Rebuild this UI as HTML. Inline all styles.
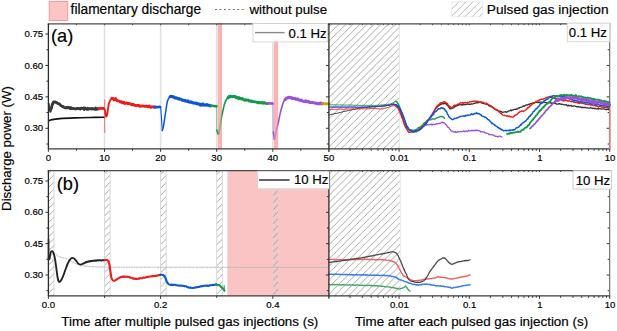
<!DOCTYPE html>
<html><head><meta charset="utf-8"><style>
html,body{margin:0;padding:0;background:#fff;width:617px;height:331px;overflow:hidden;}
svg{display:block;}
text{font-family:"Liberation Sans",sans-serif;}
</style></head><body>
<svg width="617" height="331" viewBox="0 0 617 331">
<defs>
<pattern id="hatA" patternUnits="userSpaceOnUse" width="7.05" height="7.05" x="3.5" y="0"><path d="M-1,1 L1,-1 M0,7.05 L7.05,0 M6.05,8.05 L8.05,6.05" stroke="#929292" stroke-width="0.8"/></pattern>
<pattern id="hatB" patternUnits="userSpaceOnUse" width="7.05" height="7.05" x="2.75" y="0"><path d="M-1,1 L1,-1 M0,7.05 L7.05,0 M6.05,8.05 L8.05,6.05" stroke="#929292" stroke-width="0.8"/></pattern>
<pattern id="hb0" patternUnits="userSpaceOnUse" width="7.05" height="7.05" x="3.3" y="0"><path d="M-1,1 L1,-1 M0,7.05 L7.05,0 M6.05,8.05 L8.05,6.05" stroke="#929292" stroke-width="0.8"/></pattern>
<pattern id="hb1" patternUnits="userSpaceOnUse" width="7.05" height="7.05" x="3.3" y="0"><path d="M-1,1 L1,-1 M0,7.05 L7.05,0 M6.05,8.05 L8.05,6.05" stroke="#929292" stroke-width="0.8"/></pattern>
<pattern id="hb2" patternUnits="userSpaceOnUse" width="7.05" height="7.05" x="3.3" y="0"><path d="M-1,1 L1,-1 M0,7.05 L7.05,0 M6.05,8.05 L8.05,6.05" stroke="#929292" stroke-width="0.8"/></pattern>
<pattern id="hb3" patternUnits="userSpaceOnUse" width="7.05" height="7.05" x="3.3" y="0"><path d="M-1,1 L1,-1 M0,7.05 L7.05,0 M6.05,8.05 L8.05,6.05" stroke="#929292" stroke-width="0.8"/></pattern>
<pattern id="hb4" patternUnits="userSpaceOnUse" width="7.05" height="7.05" x="3.3" y="0"><path d="M-1,1 L1,-1 M0,7.05 L7.05,0 M6.05,8.05 L8.05,6.05" stroke="#929292" stroke-width="0.8"/></pattern>
<pattern id="hb5" patternUnits="userSpaceOnUse" width="7.05" height="7.05" x="3.3" y="0"><path d="M-1,1 L1,-1 M0,7.05 L7.05,0 M6.05,8.05 L8.05,6.05" stroke="#929292" stroke-width="0.8"/></pattern>
<pattern id="hatL" patternUnits="userSpaceOnUse" width="7.0" height="7.0" x="5.8" y="0"><path d="M-1,1 L1,-1 M0,7.0 L7.0,0 M6.0,8.0 L8.0,6.0" stroke="#a4a4a4" stroke-width="0.75"/></pattern>
</defs>
<rect width="617" height="331" fill="#fff"/>
<rect x="49.3" y="1.5" width="18.4" height="19" fill="#fcc4c4" stroke="#fa9898" stroke-width="1"/>
<text x="70.6" y="13.6" font-size="13.74" font-family="Liberation Sans, sans-serif" stroke="#000" stroke-width="0.18" fill="#000">filamentary discharge</text>
<line x1="215" y1="9.5" x2="246" y2="9.5" stroke="#777" stroke-width="1" stroke-dasharray="2,2.45"/>
<text x="249.5" y="13.6" font-size="13.3" font-family="Liberation Sans, sans-serif" stroke="#000" stroke-width="0.18" fill="#000">without pulse</text>
<rect x="451.8" y="1.8" width="30.9" height="14.9" fill="url(#hatL)" stroke="#d6d6d6" stroke-width="0.8" stroke-dasharray="1,1"/>
<text x="486.8" y="14" font-size="13.7" font-family="Liberation Sans, sans-serif" stroke="#000" stroke-width="0.18" fill="#000">Pulsed gas injection</text>
<line x1="104.50" y1="23.8" x2="104.50" y2="148.8" stroke="#e2e2e2" stroke-width="1.6"/>
<line x1="160.60" y1="23.8" x2="160.60" y2="148.8" stroke="#e2e2e2" stroke-width="1.6"/>
<line x1="216.70" y1="23.8" x2="216.70" y2="148.8" stroke="#e2e2e2" stroke-width="1.6"/>
<line x1="272.80" y1="23.8" x2="272.80" y2="148.8" stroke="#e2e2e2" stroke-width="1.6"/>
<rect x="218.22" y="23.8" width="3.41" height="125.00000000000001" fill="#ffb4b4" stroke="#ffa0a0" stroke-width="0.8"/>
<rect x="274.32" y="23.8" width="3.41" height="125.00000000000001" fill="#ffb4b4" stroke="#ffa0a0" stroke-width="0.8"/>
<rect x="328.9" y="23.8" width="70.40" height="125.00000000000001" fill="url(#hatA)"/>
<line x1="399.5" y1="23.8" x2="399.5" y2="148.8" stroke="#e6e6e6" stroke-width="0.9"/>
<path d="M48.7,120.8 C49.25,120.6 50.12,119.97 52,119.6 C53.88,119.23 56.17,118.88 60,118.6 C63.83,118.32 70,118.08 75,117.9 C80,117.72 85.17,117.6 90,117.5 C94.83,117.4 101.67,117.33 104,117.3" fill="none" stroke="#111" stroke-width="1.6" stroke-linejoin="round" stroke-linecap="round" />
<path d="M48.7,103.6 C48.97,104.97 49.83,111.07 50.3,111.8 C50.77,112.53 51.3,108.63 51.5,108" fill="none" stroke="#383838" stroke-width="1.8" stroke-linejoin="round" stroke-linecap="round" />
<path d="M51.3,108.5 L51.42,108.02 L51.59,107.69 L51.79,106.07 L52.02,105.86 L52.26,104.59 L52.5,103.91 L52.84,103.81 L53.19,102.44 L53.62,101.82 L54.2,101.86 L54.71,102.08 L55.3,101.94 L55.96,102.54 L56.64,102.46 L57.33,103.14 L58,103.55 L58.66,103.65 L59.32,104.04 L59.99,104.47 L60.66,105.41 L61.33,105.86 L62,106.19 L62.61,106.65 L63.15,106.44 L63.69,107.13 L64.3,107.48 L65.04,107.87 L66,107.5 L66.57,107.75 L67.2,107.28 L67.88,107.89 L68.59,107.37 L69.34,107.72 L70.12,108.67 L70.93,107.57 L71.74,108.68 L72.56,108.57 L73.38,108.4 L74.2,108.72 L75,108.78 L75.67,109 L76.34,108.58 L77,108.48 L77.67,108.5 L78.33,108.38 L79.01,108.72 L79.69,108.47 L80.38,109.13 L81.09,108.11 L81.82,108.39 L82.57,108.45 L83.35,108.05 L84.16,109.46 L85,107.96 L85.63,108.71 L86.3,108.62 L87.02,109.39 L87.77,108.12 L88.55,109.19 L89.35,108.56 L90.16,108.76 L90.98,108.58 L91.81,109.04 L92.62,108.41 L93.43,108.78 L94.22,108.93 L94.98,109.45 L95.7,107.96 L96.39,109.34 L97.03,109.14 L97.62,108.63 L98.15,108.91 L98.61,108.64 L99,108.8" fill="none" stroke="#383838" stroke-width="2.8" stroke-linejoin="round" stroke-linecap="round" />
<path d="M104.7,100 L104.7,132.5" fill="none" stroke="#ee1c1c" stroke-width="0.7" stroke-linejoin="round" stroke-linecap="round" opacity="0.85"/>
<path d="M98.7,108.3 L99.29,108.66 L100.13,108.41 L101,108.36 L101.94,108.36 L102.91,108.36 L103.6,108.4" fill="none" stroke="#ee1c1c" stroke-width="2.6" stroke-linejoin="round" stroke-linecap="round" />
<path d="M103.6,108.4 C103.8,108.67 104.38,108.67 104.8,110 C105.22,111.33 105.67,115.9 106.1,116.4 C106.53,116.9 106.92,115.23 107.4,113 C107.88,110.77 108.25,105.45 109,103 C109.75,100.55 111.23,99.05 111.9,98.3 C112.57,97.55 112.82,98.47 113,98.5" fill="none" stroke="#ee1c1c" stroke-width="1.9" stroke-linejoin="round" stroke-linecap="round" />
<path d="M111.9,98.3 L112.41,98.46 L113.14,98.52 L114.02,99.92 L115,98.93 L115.57,98.57 L116.14,100.04 L116.75,100.28 L117.41,100.74 L118.15,100.82 L119.01,101.13 L120,101.62 L120.56,102 L121.17,101.68 L121.81,101.89 L122.49,102.89 L123.2,102.6 L123.94,102.26 L124.69,103.62 L125.45,103.28 L126.22,103 L127,102.98 L127.77,103.69 L128.53,103.47 L129.27,103.57 L130,103.65 L130.71,104.08 L131.43,104.79 L132.14,104.4 L132.86,104.19 L133.57,105.07 L134.29,104.99 L135,105.4 L135.71,105.65 L136.43,105.29 L137.14,105.42 L137.86,105.57 L138.57,105.29 L139.29,106.03 L140,106.38 L140.73,106.06 L141.47,106.01 L142.23,106.09 L143,105.99 L143.78,106.06 L144.55,106.28 L145.31,106.2 L146.06,106.41 L146.8,106.08 L147.51,106.81 L148.19,106.76 L148.83,106.4 L149.44,106.05 L150,106.9 L151.02,107.37 L151.94,106.79 L152.76,106.92 L153.47,106.93 L154.08,107.39 L154.59,106.86 L155,107.2" fill="none" stroke="#ee1c1c" stroke-width="2.8" stroke-linejoin="round" stroke-linecap="round" />
<path d="M154.5,106.9 L155.12,107.12 L156.02,106.89 L157,107.18 L157.83,107.05 L158.76,107.06 L159.61,106.87 L160.2,107.2" fill="none" stroke="#0a55d8" stroke-width="2.6" stroke-linejoin="round" stroke-linecap="round" />
<path d="M160.2,107.2 C160.32,107.67 160.55,106.12 160.9,110 C161.25,113.88 162.07,127.08 162.3,130.5" fill="none" stroke="#0a55d8" stroke-width="1.1" stroke-linejoin="round" stroke-linecap="round" />
<path d="M162.3,130.5 C162.5,129.75 162.97,128.92 163.5,126 C164.03,123.08 164.83,117.17 165.5,113 C166.17,108.83 166.75,103.72 167.5,101 C168.25,98.28 169.25,97.47 170,96.7 C170.75,95.93 171.67,96.45 172,96.4" fill="none" stroke="#0a55d8" stroke-width="1.5" stroke-linejoin="round" stroke-linecap="round" />
<path d="M170,96.7 L170.75,96.27 L172,96.41 L172.5,96.86 L173.04,96.89 L173.62,96.79 L174.3,97.44 L175.08,97.93 L176,97.85 L176.57,97.93 L177.17,98.15 L177.81,98.78 L178.49,98.9 L179.2,98.62 L179.94,99.31 L180.7,99.25 L181.49,99.4 L182.31,100.35 L183.15,100.44 L184,100.15 L184.61,100.6 L185.24,100.92 L185.89,100.7 L186.56,101.06 L187.25,101.52 L187.95,100.85 L188.66,101.77 L189.38,102.1 L190.1,102.2 L190.82,101.74 L191.54,102.5 L192.25,102.26 L192.96,102.93 L193.65,103.11 L194.33,103.13 L195,102.93 L195.75,103.15 L196.52,103.82 L197.28,103.36 L198.05,103.99 L198.81,104.14 L199.57,104 L200.31,105.06 L201.05,104.38 L201.76,105.22 L202.46,103.88 L203.14,103.91 L203.79,105.15 L204.41,105.13 L205,104.89 L205.98,105.13 L206.92,104.62 L207.81,105.19 L208.62,105.15 L209.37,105.52 L210.02,105.99 L210.56,105.76 L211,105.8" fill="none" stroke="#0a55d8" stroke-width="3.0" stroke-linejoin="round" stroke-linecap="round" />
<path d="M216.7,106 L216.7,131" fill="none" stroke="#7cc68f" stroke-width="1.0" stroke-linejoin="round" stroke-linecap="round" />
<path d="M210.8,105.8 L211.32,105.93 L212.09,105.79 L213,105.91 L213.67,106.07 L214.47,106.03 L215.29,106.39 L216,106 L216.5,106.2" fill="none" stroke="#12984a" stroke-width="2.4" stroke-linejoin="round" stroke-linecap="round" />
<path d="M216.8,130 C216.93,130.5 217.32,132.28 217.6,133 C217.88,133.72 218.35,134.08 218.5,134.3" fill="none" stroke="#12984a" stroke-width="1.4" stroke-linejoin="round" stroke-linecap="round" />
<path d="M218.5,134.3 C218.67,133.58 219.17,131.72 219.5,130 C219.83,128.28 220.17,126.17 220.5,124 C220.83,121.83 221.12,119.12 221.5,117 C221.88,114.88 222.3,113.47 222.8,111.3 C223.3,109.13 223.88,105.97 224.5,104 C225.12,102.03 225.83,100.62 226.5,99.5 C227.17,98.38 227.75,97.85 228.5,97.3 C229.25,96.75 230.58,96.38 231,96.2" fill="none" stroke="#12984a" stroke-width="1.6" stroke-linejoin="round" stroke-linecap="round" />
<path d="M228,97.5 L228.38,97.87 L228.91,96.44 L229.61,96.76 L230.5,95.93 L231.02,96.79 L231.58,96.32 L232.19,96.51 L232.84,96.77 L233.55,96.46 L234.31,96.51 L235.12,96.37 L236,97.73 L236.57,97.2 L237.18,97.41 L237.82,97.78 L238.48,98.68 L239.16,97.58 L239.86,98.48 L240.58,98.46 L241.31,99 L242.04,98.39 L242.78,99.09 L243.53,99.72 L244.27,100.17 L245,100.36 L245.68,99.66 L246.35,100.13 L247.03,100.23 L247.7,99.94 L248.38,100.06 L249.07,100.98 L249.76,100.94 L250.47,100.95 L251.18,101.56 L251.91,100.92 L252.65,101.59 L253.42,101.54 L254.2,101.65 L255,101.97 L255.66,101.96 L256.37,102.1 L257.12,102.2 L257.9,102.89 L258.71,102.21 L259.53,102.78 L260.37,102.74 L261.2,102.5 L262.02,103 L262.84,102.52 L263.62,103.32 L264.38,102.72 L265.09,102.91 L265.76,103.27 L266.38,103.52 L266.92,103.61 L267.4,103.66 L267.8,103.4" fill="none" stroke="#12984a" stroke-width="2.8" stroke-linejoin="round" stroke-linecap="round" />
<path d="M273,104 L273.2,133" fill="none" stroke="#b99ae8" stroke-width="1.0" stroke-linejoin="round" stroke-linecap="round" />
<path d="M267.5,103.3 L268.14,103.28 L269.07,103.17 L270,103.51 L270.96,103.5 L271.92,103.28 L272.6,103.5" fill="none" stroke="#9a52d8" stroke-width="2.6" stroke-linejoin="round" stroke-linecap="round" />
<path d="M273.2,132 C273.3,132.67 273.58,134.78 273.8,136 C274.02,137.22 274.38,138.75 274.5,139.3" fill="none" stroke="#9a52d8" stroke-width="1.4" stroke-linejoin="round" stroke-linecap="round" />
<path d="M274.5,139.3 C274.68,138.42 275.22,135.88 275.6,134 C275.98,132.12 276.32,130 276.8,128 C277.28,126 277.88,124.67 278.5,122 C279.12,119.33 279.58,115.5 280.5,112 C281.42,108.5 282.7,103.4 284,101 C285.3,98.6 287.58,98.17 288.3,97.6" fill="none" stroke="#9a52d8" stroke-width="1.6" stroke-linejoin="round" stroke-linecap="round" />
<path d="M285,99.5 L285.39,99.55 L285.92,98.84 L286.58,97.96 L287.37,98.06 L288.3,97.24 L288.88,97.38 L289.5,97.86 L290.16,97.25 L290.86,97.93 L291.61,97.58 L292.4,98.48 L293.22,98.15 L294.09,98.66 L295,98.27 L295.61,98.82 L296.26,99.42 L296.92,99.42 L297.62,98.79 L298.33,99.95 L299.05,100.13 L299.79,99.89 L300.54,100.71 L301.29,100.05 L302.05,100.58 L302.8,101.19 L303.54,101.44 L304.28,101.59 L305,100.92 L305.72,100.82 L306.45,101.72 L307.18,101.21 L307.92,101.8 L308.65,101.52 L309.39,102.46 L310.12,102.48 L310.85,102.51 L311.58,102.42 L312.29,102.54 L312.99,102.52 L313.68,102.85 L314.35,102.9 L315,103.06 L315.83,102.86 L316.68,103.78 L317.54,103.32 L318.39,103.8 L319.22,103.87 L320.02,103.18 L320.76,102.98 L321.45,104.08 L322.06,103.56 L322.58,103.78 L323,103.8" fill="none" stroke="#9a52d8" stroke-width="2.9" stroke-linejoin="round" stroke-linecap="round" />
<path d="M322.5,103.7 L328.8,103.9" fill="none" stroke="#d09c00" stroke-width="2.7" stroke-linejoin="round" stroke-linecap="round" />
<rect x="218.22" y="23.8" width="3.41" height="125.00000000000001" fill="#ffb4b4" fill-opacity="0.55"/>
<rect x="274.32" y="23.8" width="3.41" height="125.00000000000001" fill="#ffb4b4" fill-opacity="0.55"/>
<path d="M329,104.8 L329.38,104.77 L329.81,104.83 L330.29,104.68 L330.81,104.81 L331.37,104.78 L331.96,104.84 L332.59,104.57 L333.26,104.96 L333.95,104.91 L334.67,104.68 L335.41,104.81 L336.17,104.91 L336.95,104.99 L337.75,104.93 L338.56,105.11 L339.38,104.96 L340.21,104.85 L341.04,104.9 L341.87,105.08 L342.7,104.93 L343.53,105.12 L344.35,105.15 L345.17,105.11 L345.97,105.18 L346.75,105.05 L347.52,105.08 L348.27,105.02 L349,105.03 L349.72,104.92 L350.44,105.06 L351.17,105.01 L351.9,104.98 L352.64,105.18 L353.38,105.23 L354.12,105.15 L354.86,105.37 L355.6,105.34 L356.35,105.37 L357.09,105.18 L357.83,105.09 L358.57,105.35 L359.31,105.34 L360.05,105.4 L360.78,105.38 L361.5,105.49 L362.23,105.32 L362.94,105.44 L363.65,105.27 L364.35,105.1 L365.05,105.34 L365.73,105.57 L366.41,105.2 L367.07,105.52 L367.73,105.32 L368.37,105.35 L369,105.41 L369.83,105.42 L370.66,105.27 L371.48,105.39 L372.3,105.41 L373.11,105.45 L373.91,105.24 L374.7,105.49 L375.48,105.51 L376.25,105.55 L377,105.08 L377.74,105.23 L378.46,104.96 L379.17,105.2 L379.85,105.19 L380.52,104.96 L381.16,104.87 L381.78,105.05 L382.37,105.07 L382.94,104.87 L383.49,104.9 L384,104.6 L385.18,104.73 L386.14,104.76 L386.93,104.68 L387.59,104.77 L388.18,104.34 L388.75,104.08 L389.34,104.25 L390,103.93 L390.75,103.77 L391.54,103.49 L392.34,103.11 L393.12,102.82 L393.86,102.42 L394.52,101.71 L395.08,101.6 L395.5,101.4" fill="none" stroke="#12984a" stroke-width="1.0" stroke-linejoin="round" stroke-linecap="round" />
<path d="M329,106.5 L329.38,106.74 L329.81,106.46 L330.29,106.63 L330.81,106.51 L331.37,106.47 L331.96,106.72 L332.59,106.66 L333.26,106.51 L333.95,106.66 L334.67,106.4 L335.41,106.48 L336.17,106.68 L336.95,106.58 L337.75,106.46 L338.56,106.65 L339.38,106.64 L340.21,106.77 L341.04,106.74 L341.87,106.6 L342.7,106.58 L343.53,106.63 L344.35,106.63 L345.17,106.84 L345.97,106.86 L346.75,106.84 L347.52,106.73 L348.27,106.66 L349,106.81 L349.72,106.67 L350.44,106.75 L351.16,106.53 L351.88,106.69 L352.61,106.93 L353.34,106.65 L354.07,106.61 L354.8,106.78 L355.53,107.02 L356.27,107.01 L357,106.81 L357.73,106.81 L358.46,106.87 L359.19,106.79 L359.91,106.92 L360.64,106.89 L361.36,106.76 L362.08,106.88 L362.79,106.92 L363.5,106.86 L364.21,106.83 L364.91,107.07 L365.61,107.19 L366.3,106.92 L366.99,106.9 L367.66,107 L368.34,106.89 L369,106.81 L369.77,107.04 L370.56,106.71 L371.34,106.71 L372.13,106.68 L372.93,106.61 L373.72,106.64 L374.51,106.68 L375.3,106.73 L376.08,106.58 L376.85,106.44 L377.62,106.22 L378.38,106.3 L379.12,106.13 L379.85,106.16 L380.56,106.22 L381.26,106.06 L381.94,105.94 L382.59,105.8 L383.23,105.82 L383.84,105.77 L384.42,105.58 L384.98,105.56 L385.5,105.67 L386,105.3 L387.29,105.25 L388.32,104.94 L389.14,105.03 L389.81,104.69 L390.38,104.46 L390.9,104.26 L391.42,104.11 L392,104.04 L392.99,103.84 L393.94,104.22 L394.78,104.5 L395.49,104.48 L396,104.8" fill="none" stroke="#9a52d8" stroke-width="1.0" stroke-linejoin="round" stroke-linecap="round" />
<path d="M329,115 L329.41,115.01 L329.9,114.88 L330.48,114.49 L331.13,114.48 L331.83,114.34 L332.59,114.15 L333.38,114.09 L334.19,113.71 L335.02,113.66 L335.85,113.53 L336.68,113.4 L337.48,113.14 L338.26,112.94 L339,112.88 L339.71,112.4 L340.43,112.59 L341.14,112.27 L341.86,111.99 L342.57,111.93 L343.29,111.59 L344,111.4 L344.71,111.44 L345.43,111.22 L346.14,111.23 L346.86,110.88 L347.57,110.66 L348.29,110.54 L349,110.71 L349.72,110.34 L350.45,110.11 L351.2,109.9 L351.94,109.73 L352.69,109.68 L353.44,109.59 L354.19,109.52 L354.92,109.36 L355.65,109.11 L356.36,108.85 L357.06,108.68 L357.73,108.37 L358.38,108.4 L359,108.45 L359.83,108.2 L360.61,108.14 L361.35,107.79 L362.06,107.93 L362.75,107.74 L363.42,107.6 L364.07,107.54 L364.71,107.12 L365.35,107.22 L366,107.09 L366.78,107.31 L367.52,106.98 L368.24,106.86 L368.94,106.95 L369.65,106.66 L370.38,106.89 L371.16,106.58 L372,106.59 L372.66,106.45 L373.36,106.61 L374.09,106.22 L374.85,106.52 L375.61,106.31 L376.39,106.38 L377.15,106.2 L377.91,106.33 L378.64,106.29 L379.34,106.31 L380,106.24 L380.85,106.23 L381.64,106.24 L382.4,106.03 L383.12,105.9 L383.84,105.85 L384.55,106.03 L385.26,105.84 L386,105.93 L386.76,105.69 L387.55,105.43 L388.34,105.5 L389.12,105.46 L389.9,105.05 L390.64,104.81 L391.35,104.69 L392,104.81 L392.99,104.54 L393.94,104.53 L394.78,104.67 L395.49,104.6 L396,104.6" fill="none" stroke="#333" stroke-width="1.0" stroke-linejoin="round" stroke-linecap="round" />
<path d="M329,109.4 L329.38,109.41 L329.81,109.32 L330.29,109.3 L330.81,109.38 L331.37,109.37 L331.96,109.41 L332.59,109.27 L333.26,109.35 L333.95,109.35 L334.67,109.29 L335.41,109.34 L336.17,109.37 L336.95,109.26 L337.75,109.23 L338.56,109.09 L339.38,109.22 L340.21,109.16 L341.04,109.11 L341.87,109.04 L342.7,109.19 L343.53,109.41 L344.35,109.14 L345.17,109.08 L345.97,109.11 L346.75,108.97 L347.52,109.04 L348.27,108.93 L349,108.92 L349.72,109.02 L350.46,109 L351.21,108.95 L351.97,108.86 L352.74,108.97 L353.52,108.8 L354.3,109.01 L355.09,108.86 L355.88,108.89 L356.68,108.98 L357.47,108.94 L358.25,108.7 L359.04,108.82 L359.81,108.88 L360.58,108.7 L361.34,108.53 L362.08,108.8 L362.82,108.79 L363.53,108.84 L364.23,108.79 L364.91,108.78 L365.57,108.78 L366.21,108.91 L366.83,108.79 L367.41,108.79 L367.97,108.67 L368.5,108.84 L369,108.68 L370.24,108.76 L371.26,108.39 L372.12,108.64 L372.83,108.57 L373.44,108.49 L373.97,108.68 L374.46,108.55 L374.94,108.48 L375.44,108.43 L376,108.73 L376.82,108.64 L377.57,108.71 L378.28,108.65 L378.96,109.01 L379.63,109.01 L380.3,108.97 L381,108.99 L381.71,108.75 L382.4,108.93 L383.09,108.6 L383.79,108.68 L384.5,108.35 L385.23,108.13 L386,108.04 L386.64,107.84 L387.32,107.45 L388.04,107.33 L388.76,107.15 L389.48,106.79 L390.19,106.41 L390.85,106.31 L391.46,106.03 L392,105.93 L392.96,105.77 L393.69,105.63 L394.32,105.61 L395,105.6 L395.65,106.16 L396.34,106.59 L397.02,107.11 L397.59,107.68 L398,108" fill="none" stroke="#ee1c1c" stroke-width="1.0" stroke-linejoin="round" stroke-linecap="round" />
<path d="M329,107.4 L329.38,107.63 L329.81,107.24 L330.29,107.2 L330.81,107.48 L331.37,107.29 L331.96,107.54 L332.59,107.26 L333.26,107.32 L333.95,107.48 L334.67,107.48 L335.41,107.42 L336.17,107.42 L336.95,107.34 L337.75,107.3 L338.56,107.33 L339.38,107.5 L340.21,107.43 L341.04,107.34 L341.87,107.37 L342.7,107.43 L343.53,107.47 L344.35,107.31 L345.17,107.31 L345.97,107.35 L346.75,107.62 L347.52,107.34 L348.27,107.46 L349,107.12 L349.72,107.4 L350.46,107.13 L351.21,107.16 L351.97,107.21 L352.74,107.27 L353.52,107.31 L354.3,107.33 L355.09,107.31 L355.88,107.23 L356.68,107.59 L357.47,107.32 L358.25,107.35 L359.04,107.51 L359.81,107.38 L360.58,107.34 L361.34,107.3 L362.08,107.48 L362.82,107.13 L363.53,107.14 L364.23,107.27 L364.91,107 L365.57,107.15 L366.21,107.37 L366.83,107.18 L367.41,107.24 L367.97,107.3 L368.5,107.07 L369,107.23 L370.21,107.1 L371.18,107.02 L371.96,107.09 L372.59,107.09 L373.12,107.02 L373.61,106.95 L374.09,107.1 L374.62,107.07 L375.24,106.94 L376,106.79 L376.63,106.61 L377.31,106.57 L378.02,106.47 L378.76,106.54 L379.51,106.54 L380.29,106.46 L381.06,106.25 L381.84,106.12 L382.6,106.09 L383.35,105.99 L384.07,105.95 L384.76,105.96 L385.4,105.61 L386,105.85 L386.96,105.18 L387.83,105.04 L388.63,104.87 L389.38,104.74 L390.07,104.65 L390.73,104.77 L391.37,104.31 L392,104.43 L392.99,104.2 L393.94,104.3 L394.78,104.24 L395.49,104.72 L396,104.5" fill="none" stroke="#0a55d8" stroke-width="1.0" stroke-linejoin="round" stroke-linecap="round" />
<path d="M396,104.8 L396.33,105.1 L396.78,105.32 L397.31,106.67 L397.89,106.62 L398.47,107.36 L399,107.96 L399.3,108.27 L399.6,108.65 L399.9,109.62 L400.2,110.79 L400.5,111.11 L400.8,111.62 L401.1,112.69 L401.4,112.81 L401.7,114.2 L402,114.5 L402.27,114.9 L402.55,116.02 L402.82,116.65 L403.09,117.09 L403.36,117.96 L403.64,118.89 L403.91,119.72 L404.18,119.75 L404.45,119.9 L404.73,121.96 L405,121.92 L405.3,122.58 L405.6,123.56 L405.9,124.02 L406.2,125.17 L406.5,125.19 L406.8,126.18 L407.1,126.5 L407.4,127.93 L407.7,127.94 L408,128.83 L408.58,129.71 L409.15,129.54 L409.73,130.29 L410.34,130.92 L411,131.01 L411.74,131.18 L412.53,131.59 L413.35,131.64 L414.18,131.14 L415,131.16 L415.67,131.23 L416.33,130.89 L417,130.59 L417.67,129.9 L418.33,130.4 L419,129.43 L419.58,129.21 L420.17,128.69 L420.77,128.26 L421.36,127.81 L421.93,127.05 L422.48,126.98 L423,126.86 L423.75,126.07 L424.38,125.7 L425.06,125.24 L426,124.81 L426.62,125.23 L427.34,124.42 L428.12,124.69 L428.94,124.86 L429.76,124.62 L430.57,124.21 L431.33,124.2 L432,124.97 L432.93,124.2 L433.74,124.49 L434.5,124.66 L435.23,124.5 L436,123.87 L436.82,123.69 L437.65,124.02 L438.47,123.6 L439.26,123.52 L440,123.43 L440.82,123.16 L441.56,122.4 L442.27,122.08 L443,122.88 L443.58,122.62 L444.15,122.79 L444.73,122.99 L445.34,124.31 L446,124.42 L446.46,124.98 L446.95,126.07 L447.47,126.62 L448,127.37 L448.53,127.51 L449.05,127.67 L449.54,128.82 L450,129.51 L450.63,130.02 L451.18,130.99 L451.7,131.23 L452.29,131.13 L453,131.87 L453.58,131.8 L454.2,131.8 L454.85,132.35 L455.54,131.54 L456.29,132.35 L457.11,132.36 L458,131.39 L458.62,131.91 L459.3,131.87 L460.02,131.52 L460.77,131.61 L461.55,131.46 L462.33,131.63 L463.11,131.36 L463.88,130.79 L464.63,131.7 L465.34,131.54 L466,130.95 L466.86,131.38 L467.69,131.64 L468.48,130.49 L469.25,130.75 L469.98,130.65 L470.69,130.9 L471.36,130.57 L472,130.18 L472.93,130.86 L473.74,130.27 L474.5,130.48 L475.23,130.88 L476,129.98 L476.77,130.14 L477.5,130.65 L478.26,130.5 L479.07,130.9 L480,131 L480.58,132.01 L481.2,131.56 L481.85,131.69 L482.53,131.85 L483.22,132.17 L483.93,131.81 L484.63,132.46 L485.32,133 L486,132.64 L486.75,133.26 L487.5,133.47 L488.25,133.6 L489,134.75 L489.75,134.46 L490.5,134.58 L491.25,134.46 L492,134.93 L492.76,135 L493.55,135.23 L494.34,135.49 L495.12,136.33 L495.9,136.12 L496.64,136.36 L497.35,136.39 L498,136.95 L498.99,136.09 L499.94,136.06 L500.78,136.66 L501.49,136.79 L502,136.8" fill="none" stroke="#9a52d8" stroke-width="1.3" stroke-linejoin="round" stroke-linecap="round" />
<path d="M396,104.6 L396.41,104.96 L396.98,105.24 L397.66,106.22 L398.35,107.23 L399,107.57 L399.38,107.97 L399.75,108.97 L400.12,109.13 L400.5,109.76 L400.88,110.66 L401.25,110.63 L401.62,112.69 L402,112.97 L402.23,113.74 L402.46,114.31 L402.69,115.01 L402.92,115.19 L403.15,116.85 L403.38,117.24 L403.62,117.9 L403.85,119.51 L404.08,118.92 L404.31,120.25 L404.54,120.69 L404.77,120.93 L405,122.58 L405.3,122.31 L405.6,123.58 L405.9,124.25 L406.2,125.05 L406.5,125.41 L406.8,126.76 L407.1,127.04 L407.4,127.15 L407.7,127.68 L408,128.58 L408.58,128.87 L409.15,129.83 L409.73,130.12 L410.34,130.09 L411,129.92 L411.74,130.34 L412.53,131.01 L413.35,130.86 L414.18,131.61 L415,130.87 L415.64,131.02 L416.26,130.98 L416.88,130.62 L417.52,130.43 L418.22,130.28 L419,129.46 L419.47,129.3 L419.96,128.76 L420.47,129.12 L420.99,128.19 L421.54,127.98 L422.09,126.4 L422.66,126.67 L423.24,125.96 L423.82,125.76 L424.41,125.01 L425,124.19 L425.39,123.97 L425.8,123.8 L426.21,123.35 L426.64,122.31 L427.08,122.21 L427.52,121.1 L427.96,120.86 L428.4,119.79 L428.85,119.73 L429.28,119.48 L429.71,118.08 L430.13,117.92 L430.54,116.51 L430.93,116.18 L431.31,116.61 L431.66,115.27 L432,114.95 L432.52,113.53 L432.99,113.28 L433.42,112.35 L433.82,112.29 L434.19,111.14 L434.54,111.46 L434.89,109.79 L435.25,109.66 L435.61,108.42 L436,108.38 L436.5,108.24 L436.99,107.24 L437.48,106.31 L437.97,106.32 L438.46,105.97 L438.96,105.37 L439.48,105.14 L440,104.07 L440.74,104.68 L441.54,104.07 L442.34,103.02 L443.13,104.1 L443.86,103.35 L444.5,103.66 L445.24,103.05 L445.81,103.75 L446.35,103.84 L447,105.25 L447.46,105.42 L447.96,105.83 L448.48,106.69 L449.02,107.84 L449.54,107.92 L450.04,108.84 L450.5,108.65 L451.31,108.6 L452.02,108.5 L453,107.91 L453.48,107.79 L454,107.68 L454.56,106.9 L455.16,106.53 L455.8,106.48 L456.48,106.01 L457.21,105.54 L458,105.37 L458.62,104.5 L459.3,104.87 L460.02,104.46 L460.77,104.75 L461.55,105.06 L462.33,104.23 L463.11,104.97 L463.88,104.48 L464.63,104.54 L465.34,104.42 L466,104.71 L466.85,104.23 L467.64,103.75 L468.4,104.43 L469.12,104.24 L469.84,104.43 L470.55,104.36 L471.26,103.74 L472,104.06 L472.75,103.89 L473.5,103.64 L474.25,103.47 L475,103.31 L475.75,102.84 L476.5,102.77 L477.25,102.97 L478,102.28 L478.75,102.56 L479.5,102.3 L480.25,102.34 L481,102.63 L481.75,102.92 L482.5,103.48 L483.25,103.14 L484,103.68 L484.67,103.77 L485.33,103.86 L486,103.17 L486.67,104.42 L487.33,104.7 L488,104.69 L488.67,105.37 L489.33,106.1 L490,105.65 L490.68,106.2 L491.37,107.02 L492.07,106.62 L492.78,107.27 L493.47,108.09 L494.15,108.7 L494.8,109.17 L495.42,109.4 L496,110.19 L496.77,110.05 L497.44,109.95 L498.06,110.63 L498.67,111.19 L499.3,111.38 L500,110.92 L500.64,111.79 L501.3,111.58 L501.97,111.88 L502.66,112.46 L503.4,112.02 L504.17,111.86 L505,111.96 L505.61,111.72 L506.26,112.42 L506.92,111.91 L507.61,111.76 L508.31,111.1 L509.03,110.9 L509.76,110.96 L510.5,110 L511.25,110.73 L512,109.82 L512.63,110.04 L513.28,109.91 L513.93,109.36 L514.59,109.48 L515.26,109.36 L515.94,109.5 L516.62,108.81 L517.3,109 L517.98,108.36 L518.66,107.92 L519.33,108 L520,107.34 L520.67,107.3 L521.34,107.19 L522.02,107.09 L522.7,106.57 L523.38,105.78 L524.06,106.35 L524.74,105.75 L525.41,105.35 L526.07,104.94 L526.72,105.12 L527.37,104.82 L528,104.7 L528.75,104.21 L529.5,104.47 L530.24,103.69 L530.97,103.66 L531.69,103.38 L532.39,103.44 L533.08,102.73 L533.74,102.68 L534.39,102.56 L535,102.3 L535.81,102.18 L536.55,101.94 L537.23,102.49 L537.89,102.7 L538.56,101.97 L539.25,102.52 L540,101.96 L540.7,102.07 L541.43,102.24 L542.18,102.41 L542.94,102.55 L543.71,101.88 L544.48,102.11 L545.24,102.58 L546,102.53 L546.75,103.28 L547.5,102.6 L548.25,102.52 L549,103.12 L549.75,102 L550.5,102.3 L551.25,103.73 L552,102.81 L552.74,103.12 L553.45,103.15 L554.16,103.06 L554.88,103.42 L555.6,103.2 L556.36,104.02 L557.15,104.1 L558,104.2 L558.64,103.81 L559.28,103.59 L559.93,104.11 L560.59,104 L561.28,104.53 L561.98,104.01 L562.71,104.31 L563.48,104.72 L564.27,104.9 L565.11,104.91 L566,104.62 L566.6,104.88 L567.21,105.77 L567.84,105.54 L568.48,105.11 L569.14,106.02 L569.82,105.51 L570.51,105.65 L571.21,105.51 L571.92,106.32 L572.65,106 L573.38,106.05 L574.13,105.91 L574.89,105.91 L575.65,106.45 L576.43,106.5 L577.21,107.07 L578,106.43 L578.65,106.67 L579.31,107.15 L579.97,107.18 L580.65,106.81 L581.33,107.53 L582.02,107.32 L582.72,107.52 L583.43,107.44 L584.14,107.7 L584.86,107.37 L585.58,107.5 L586.31,107.97 L587.04,107.84 L587.78,107.91 L588.52,108.21 L589.26,108.02 L590.01,108.14 L590.75,107.43 L591.5,108 L592.25,108.48 L593,108.03 L593.7,108.27 L594.44,108.49 L595.2,108.44 L595.99,108.8 L596.79,108.75 L597.61,108.62 L598.44,109.06 L599.28,108.68 L600.12,108.64 L600.95,109.01 L601.78,109.16 L602.59,108.98 L603.39,108.76 L604.17,108.98 L604.92,109.25 L605.65,109.44 L606.33,109.81 L606.98,109.28 L607.59,109.3 L608.15,108.76 L608.66,109.82 L609.11,109.74 L609.5,109.5" fill="none" stroke="#333" stroke-width="1.3" stroke-linejoin="round" stroke-linecap="round" />
<path d="M395.5,101.4 L395.92,101.73 L396.51,101.95 L397.19,101.94 L397.88,103.65 L398.5,104.06 L398.77,105.26 L399.03,105.6 L399.29,106.37 L399.54,106.6 L399.78,107.69 L400.02,107.62 L400.27,109.21 L400.51,109.5 L400.75,109.91 L401,110.88 L401.23,111.39 L401.45,112.47 L401.68,112.91 L401.91,113.49 L402.14,114.52 L402.36,115.32 L402.59,116.21 L402.82,117.1 L403.05,118 L403.27,118.45 L403.5,119.49 L403.78,119.06 L404.05,120.57 L404.31,121.65 L404.58,121.73 L404.85,122.8 L405.13,123.64 L405.41,123.79 L405.7,124.72 L406,125.68 L406.4,126.13 L406.82,127.38 L407.25,128.26 L407.69,128.12 L408.13,128.32 L408.57,129.11 L409,129.33 L409.73,129.53 L410.44,130.08 L411.18,130.15 L412,130.19 L412.72,130.55 L413.48,130.52 L414.28,130.18 L415.12,129.72 L416,129.62 L416.58,129.25 L417.18,129.02 L417.8,128.33 L418.44,127.34 L419.08,128.13 L419.73,127.26 L420.37,126.83 L421,126.49 L421.5,126.05 L421.98,125.49 L422.47,125.52 L422.95,124.55 L423.44,124.02 L423.93,123.14 L424.43,122.83 L424.94,122.5 L425.46,121.87 L426,121.6 L426.63,120.84 L427.3,120.89 L428,120.17 L428.71,120.07 L429.42,119.73 L430.11,119.8 L430.78,119.88 L431.42,119.46 L432,118.94 L432.93,119.02 L433.74,119.17 L434.5,119 L435.23,118.84 L436,118.16 L436.68,118.06 L437.37,117.67 L438.06,117.34 L438.74,117.18 L439.39,116.81 L440,116.49 L440.86,116.68 L441.66,116.37 L442.38,116.67 L443,117.03 L443.67,117.07 L444.17,117.81 L444.5,118.5" fill="none" stroke="#12984a" stroke-width="1.35" stroke-linejoin="round" stroke-linecap="round" />
<path d="M395,105.8 L395.41,105.61 L395.98,105.98 L396.66,106.63 L397.35,107.18 L398,108.1 L398.3,108.61 L398.62,108.79 L398.93,110.37 L399.25,110.95 L399.56,110.96 L399.87,111.91 L400.17,112.75 L400.46,113.71 L400.74,114.54 L401,115 L401.34,115.04 L401.64,117.4 L401.93,117.48 L402.2,118.14 L402.46,118.33 L402.72,119.28 L403,120.28 L403.21,120.48 L403.41,121.61 L403.6,121.97 L403.8,123.1 L403.99,123.33 L404.21,124.44 L404.44,124.2 L404.7,125.78 L405,126.13 L405.34,126.55 L405.72,127.67 L406.12,127.98 L406.55,129 L406.99,129.71 L407.43,130.37 L407.87,131.28 L408.3,131.52 L408.7,132.24 L409.57,132.2 L410.42,132.15 L411.24,132.16 L412,131.99 L412.82,131.69 L413.55,132.09 L414.5,131.44 L415.02,131.52 L415.6,131.3 L416.21,130.96 L416.86,130.5 L417.55,130.48 L418.26,130.01 L419,129.91 L419.49,129.32 L419.99,129.03 L420.5,128.19 L421.03,127.8 L421.57,127.06 L422.12,126.68 L422.68,126.63 L423.25,125.8 L423.83,125.23 L424.41,124.49 L425,124.46 L425.42,123.5 L425.85,123.34 L426.29,122.45 L426.75,122.17 L427.21,121.01 L427.68,120.3 L428.15,120.41 L428.62,119.36 L429.09,118.91 L429.55,118.46 L430,117.79 L430.44,117.05 L430.86,116.01 L431.26,115.58 L431.64,115.24 L432,114.89 L432.48,114.11 L432.91,113.33 L433.31,112.27 L433.68,111.79 L434.02,111.39 L434.35,110.18 L434.67,109.62 L434.99,109.44 L435.31,109.06 L435.65,108.15 L436,107.5 L436.5,106.54 L436.99,106.18 L437.48,105.42 L437.97,105.18 L438.46,104.89 L438.96,104.38 L439.48,104.25 L440,103.2 L440.74,102.69 L441.54,103.11 L442.34,102.72 L443.13,101.9 L443.86,102.09 L444.5,101.68 L445.24,102.1 L445.81,102.5 L446.35,103.17 L447,103.21 L447.46,103.61 L447.96,104.77 L448.48,105.2 L449.02,106.41 L449.54,106.3 L450.04,106.97 L450.5,106.69 L451.31,107.96 L452.02,107.6 L453,106.72 L453.51,106.26 L454.1,105.44 L454.74,105.29 L455.41,105.17 L456.09,105.53 L456.76,104.87 L457.41,104.1 L458,104.13 L458.72,103.85 L459.41,103.54 L460.06,102.86 L460.7,102.79 L461.34,103.04 L462,102.81 L462.77,102.43 L463.5,103.28 L464.26,102.7 L465.07,102.53 L466,102.87 L466.65,102.74 L467.36,102.31 L468.1,102.71 L468.88,102.31 L469.66,101.81 L470.45,101.84 L471.24,101.69 L472,101.32 L472.75,101.57 L473.5,101.18 L474.25,101.27 L475,101.56 L475.75,101.03 L476.5,101.36 L477.25,101.24 L478,101.81 L478.75,101.5 L479.5,102.3 L480.25,102.3 L481,101.74 L481.75,102.11 L482.5,102.11 L483.25,102.39 L484,102.8 L484.67,103.26 L485.33,103.71 L486,103.87 L486.67,103.23 L487.33,103.77 L488,104.18 L488.67,104.48 L489.33,104.97 L490,105.49 L490.61,105.52 L491.23,105.87 L491.86,107.16 L492.5,107.09 L493.12,107.96 L493.74,107.59 L494.35,108.6 L494.93,109.12 L495.48,109.42 L496,109.18 L496.68,110.07 L497.29,110.17 L497.85,110.53 L498.39,111.31 L498.92,111.9 L499.45,112.12 L500,112.57 L500.64,113.29 L501.26,113.39 L501.88,114.2 L502.52,114.76 L503.22,115.13 L504,115.47 L504.67,115.25 L505.41,115.68 L506.19,115.83 L507,116.35 L507.81,115.77 L508.59,116.46 L509.33,116.05 L510,116.8 L510.9,116.56 L511.65,116.8 L512.35,117.06 L513.1,117.15 L514,116.01 L514.52,116.06 L515.07,115.09 L515.65,115.19 L516.26,114.58 L516.88,114.49 L517.5,113.75 L518.14,113.32 L518.77,112.48 L519.39,112.28 L520,111.67 L520.67,111.67 L521.33,110.9 L522,111.21 L522.67,111.23 L523.33,111.46 L524,110.9 L524.67,110.59 L525.33,110.12 L526,109.98 L526.55,109.13 L527.09,108.85 L527.64,107.73 L528.18,107.67 L528.73,107.68 L529.27,106.33 L529.82,106.44 L530.36,105.84 L530.91,105.27 L531.45,105.02 L532,104.51 L532.6,103.73 L533.2,103.6 L533.8,102.66 L534.4,103.23 L535,102.37 L535.6,102.25 L536.2,101.34 L536.8,101.8 L537.4,101.22 L538,100.71 L538.67,100.35 L539.33,100.11 L540,99.52 L540.67,99.46 L541.33,99.22 L542,99.19 L542.67,99.34 L543.33,99.04 L544,98.58 L544.77,98.48 L545.57,97.99 L546.38,97.73 L547.19,97.21 L547.97,97.14 L548.71,97.02 L549.39,97.25 L550,97.15 L550.96,97.34 L551.69,97.7 L552.32,97.78 L553,97.76 L553.68,97.9 L554.31,98.22 L555.04,98.79 L556,98.63 L556.59,98.61 L557.24,99.16 L557.94,99.7 L558.69,99.92 L559.47,99.91 L560.29,99.33 L561.13,100.01 L562,100.41 L562.65,100.63 L563.33,100.95 L564.04,100.2 L564.76,100.67 L565.5,100.18 L566.25,100.66 L567.01,100.69 L567.76,101.14 L568.52,101.04 L569.27,100.57 L570,101.17 L570.7,101.43 L571.36,101.88 L571.99,101.35 L572.61,101.44 L573.24,101.66 L573.89,102.28 L574.58,102.04 L575.31,102.3 L576.12,102.58 L577.01,102.37 L578,103.13 L578.56,102.42 L579.15,103.56 L579.76,102.92 L580.4,102.96 L581.06,103.13 L581.73,103.13 L582.43,103.33 L583.14,103.48 L583.86,103.5 L584.6,103.92 L585.34,104.2 L586.1,104.06 L586.86,104.42 L587.63,104.25 L588.4,104.7 L589.17,104.66 L589.95,104.57 L590.72,105.05 L591.48,105.1 L592.25,105.08 L593,105.39 L593.7,105.68 L594.44,105.27 L595.2,105.61 L595.99,106.07 L596.79,106.01 L597.61,106.38 L598.44,106.99 L599.28,106.03 L600.12,106.65 L600.95,106.56 L601.78,107.23 L602.59,107.1 L603.39,106.64 L604.17,107.49 L604.92,107.29 L605.65,107.31 L606.33,107.51 L606.98,107.67 L607.59,107.45 L608.15,107.68 L608.66,108.27 L609.11,107.64 L609.5,108" fill="none" stroke="#ee1c1c" stroke-width="1.4" stroke-linejoin="round" stroke-linecap="round" />
<path d="M396,104.5 L396.33,104.62 L396.78,105.42 L397.31,105.38 L397.89,106.14 L398.47,106.91 L399,107.23 L399.38,107.98 L399.77,108.44 L400.17,109.34 L400.56,110.21 L400.95,110.87 L401.32,111.67 L401.67,112.43 L402,113.24 L402.34,113.41 L402.64,114.47 L402.93,115.6 L403.2,115.74 L403.46,116.43 L403.72,117.24 L404,117.78 L404.22,118.79 L404.43,119.27 L404.63,119.89 L404.83,120.85 L405.04,121.67 L405.26,121.58 L405.49,122.53 L405.73,123.27 L406,123.58 L406.33,124.94 L406.68,126.14 L407.05,126.52 L407.44,127.41 L407.83,127.17 L408.23,128.29 L408.62,128.61 L409,129.73 L409.73,130.14 L410.44,130.51 L411.18,130.93 L412,131.23 L412.74,131.69 L413.53,131.8 L414.35,131.81 L415.18,131.09 L416,131.87 L416.66,131.37 L417.3,130.67 L417.94,130.89 L418.59,130.41 L419.28,130.01 L420,129.79 L420.45,128.74 L420.9,128.95 L421.36,128.7 L421.83,127.57 L422.31,127.85 L422.81,126.73 L423.32,126.17 L423.86,126.08 L424.41,125.17 L425,123.95 L425.39,123.85 L425.79,123.75 L426.22,122.84 L426.66,122.3 L427.11,121.86 L427.57,121.25 L428.03,120.43 L428.5,119.73 L428.97,119.52 L429.43,119.14 L429.89,117.41 L430.34,117.7 L430.78,117.31 L431.21,116.21 L431.61,116.4 L432,115.05 L432.59,115.1 L433.16,114.65 L433.71,114.02 L434.24,112.19 L434.75,112.47 L435.24,111.66 L435.71,111.62 L436.16,111.49 L436.59,110.79 L437,110.79 L437.73,109.18 L438.34,108.97 L438.9,108.72 L439.43,108.82 L440,108.76 L440.75,107.91 L441.5,107.73 L442.25,108.27 L443,107.8 L443.6,108.69 L444.2,108.73 L444.8,109.52 L445.4,110.84 L446,110.92 L446.38,111.59 L446.75,112 L447.12,113.14 L447.5,114.19 L447.88,114.69 L448.25,114.85 L448.62,116.02 L449,116.97 L449.49,116.91 L449.96,117.79 L450.44,118.13 L450.93,118.72 L451.44,118.97 L452,119.1 L452.72,119.7 L453.48,119.38 L454.28,118.44 L455.12,118.42 L456,118.18 L456.66,117.83 L457.36,117.93 L458.07,117.52 L458.8,117.38 L459.54,116.57 L460.28,116.49 L461,116.37 L461.72,116.23 L462.46,116.12 L463.2,115.91 L463.93,116.04 L464.64,116.49 L465.34,115.69 L466,115.3 L466.85,115.67 L467.62,115.07 L468.38,115.33 L469.15,115.15 L470,115.1 L470.68,114.48 L471.41,113.77 L472.18,114.59 L472.94,114.23 L473.69,114.19 L474.38,113.72 L475,113.5 L475.82,113.47 L476.44,112.8 L477.09,113.66 L478,113.41 L478.53,113.61 L479.13,114.14 L479.78,114.06 L480.46,114.88 L481.17,114.8 L481.89,116.07 L482.61,116.14 L483.32,116.38 L484,116.7 L484.6,117.02 L485.2,117.29 L485.8,117.32 L486.4,118.2 L487,118.62 L487.6,119.2 L488.2,119.87 L488.8,119.78 L489.4,120.46 L490,121.1 L490.61,121.64 L491.23,122.53 L491.86,123.55 L492.5,123.2 L493.12,123.92 L493.74,124.2 L494.35,124.75 L494.93,125.63 L495.48,125.57 L496,126.07 L496.77,126.49 L497.44,126.79 L498.06,127.74 L498.67,127.78 L499.3,128.66 L500,128.27 L500.64,129.09 L501.3,129.81 L501.97,129.46 L502.66,130.07 L503.4,130.69 L504.17,130.59 L505,130.36 L505.63,130.55 L506.32,130.76 L507.05,130.47 L507.8,130.47 L508.56,130.56 L509.32,130.06 L510.06,130.83 L510.76,130.05 L511.41,130.11 L512,130.04 L512.84,130.25 L513.56,129.51 L514.19,130.01 L514.78,129.7 L515.37,129.07 L516,128.1 L516.55,127.79 L517.08,127.77 L517.61,127.56 L518.15,127.27 L518.71,127 L519.32,126.29 L520,125.62 L520.47,125.35 L520.97,124.23 L521.49,124.77 L522.03,123.54 L522.59,122.96 L523.16,122.86 L523.73,122.46 L524.31,121.73 L524.88,121.51 L525.45,121.07 L526,120.69 L526.46,120.14 L526.92,119.38 L527.38,119.05 L527.85,118.87 L528.31,117.86 L528.77,117.35 L529.23,116.19 L529.69,116.36 L530.15,116.32 L530.62,115.37 L531.08,114.52 L531.54,114.42 L532,113.88 L532.5,113.34 L533,112 L533.5,111.42 L534,111.4 L534.5,110.76 L535,110.16 L535.5,109.01 L536,109.12 L536.5,108.9 L537,108.13 L537.5,108.01 L538,106.85 L538.55,106.18 L539.09,106.12 L539.64,105.32 L540.18,103.78 L540.73,103.46 L541.27,103.47 L541.82,102.72 L542.36,102.92 L542.91,102.38 L543.45,101.83 L544,100.91 L544.68,100.44 L545.39,100.26 L546.11,99.46 L546.83,99.34 L547.54,98.82 L548.22,98.58 L548.87,98.04 L549.47,97.46 L550,96.53 L550.96,96.52 L551.69,96.17 L552.32,96.6 L553,95.77 L553.73,95.83 L554.44,96 L555.18,95.96 L556,96.01 L556.7,95.84 L557.43,96.21 L558.21,95.65 L559.06,96.29 L560,95.7 L560.65,96.11 L561.36,96.51 L562.1,96.73 L562.88,96.65 L563.66,96.73 L564.45,96.77 L565.24,96.68 L566,97.01 L566.67,98.32 L567.33,97.55 L568,97.9 L568.67,98.17 L569.33,98.88 L570,99.17 L570.67,99.34 L571.33,99.38 L572,99.96 L572.69,99.78 L573.29,100.47 L573.85,100.96 L574.44,100.35 L575.09,100.83 L575.87,100.76 L576.82,100.96 L578,100.9 L578.52,101.42 L579.07,101.49 L579.66,101.99 L580.27,102.44 L580.92,101.5 L581.59,102.28 L582.28,101.81 L582.99,102.03 L583.72,101.96 L584.47,102.59 L585.22,102.95 L585.99,102.68 L586.77,102.91 L587.56,102.73 L588.34,103.01 L589.13,102.85 L589.92,103.35 L590.7,102.9 L591.48,104.33 L592.24,104.15 L593,103.72 L593.7,103.87 L594.44,104.01 L595.2,104.3 L595.99,104.47 L596.79,105.1 L597.61,104.52 L598.44,104.22 L599.28,105.01 L600.12,105.2 L600.95,104.96 L601.78,105.59 L602.59,105.42 L603.39,105.36 L604.17,105.7 L604.92,105.46 L605.65,105.85 L606.33,106.6 L606.98,106.55 L607.59,106.47 L608.15,106.41 L608.66,106.54 L609.11,106.18 L609.5,106.6" fill="none" stroke="#0a55d8" stroke-width="1.45" stroke-linejoin="round" stroke-linecap="round" />
<path d="M507,134 L507.44,133.94 L508.03,133.52 L508.74,133.37 L509.52,133.84 L510.35,132.94 L511.19,132.99 L512,132.82 L512.73,132.96 L513.52,132.44 L514.35,132.53 L515.19,132.36 L516,132.06 L516.76,131.82 L517.43,131.58 L518,132.12 L519,131.58 L520,131.85 L520.44,131.77 L520.94,130.82 L521.51,130.38 L522.11,130.01 L522.75,129.76 L523.41,129.89 L524.07,128.8 L524.74,128.23 L525.38,127.54 L526,127.53 L526.46,127.2 L526.92,127.05 L527.38,126.18 L527.85,125.57 L528.31,125.04 L528.77,125.37 L529.23,124.42 L529.69,123.64 L530.15,122.69 L530.62,122.16 L531.08,121.61 L531.54,121.04 L532,120.65 L532.46,119.73 L532.92,119.93 L533.38,118.49 L533.85,118.4 L534.31,117.84 L534.77,117.31 L535.23,116.84 L535.69,115.93 L536.15,115.32 L536.62,115.12 L537.08,114.5 L537.54,113.55 L538,113.26 L538.5,112.06 L539,111.97 L539.5,110.66 L540,111.1 L540.5,109.98 L541,109.91 L541.5,109.22 L542,108.38 L542.5,108.29 L543,108.01 L543.5,106.75 L544,107.08 L544.56,106.09 L545.13,105.16 L545.72,104.81 L546.31,104.47 L546.9,104.06 L547.48,103.09 L548.04,102.73 L548.58,102.52 L549.09,102.01 L549.57,102.1 L550,101.36 L550.79,100.62 L551.42,99.44 L551.94,98.89 L552.45,98.35 L553,98.2 L553.73,97.9 L554.44,97.81 L555.18,97.24 L556,96.37 L556.7,96.33 L557.43,96.75 L558.21,95.92 L559.06,95.84 L560,95.1 L560.65,95.01 L561.36,95.2 L562.1,95.2 L562.88,95.38 L563.66,95.14 L564.45,94.63 L565.24,95.85 L566,95.23 L566.75,94.62 L567.5,95.66 L568.25,95.44 L569,95.19 L569.75,95.31 L570.5,95.52 L571.25,94.75 L572,95.82 L572.69,95.67 L573.29,95.85 L573.85,95.54 L574.44,95.6 L575.09,96.35 L575.87,94.98 L576.82,96.5 L578,96.67 L578.52,95.91 L579.07,96.41 L579.66,96.37 L580.27,96.5 L580.92,96.39 L581.59,96.47 L582.28,97.01 L582.99,97.01 L583.72,97.38 L584.47,97.56 L585.22,97.29 L585.99,98.21 L586.77,98.2 L587.56,97.37 L588.34,97.93 L589.13,98 L589.92,98.37 L590.7,98.09 L591.48,99.01 L592.24,98.56 L593,99.45 L593.67,98.72 L594.38,99.68 L595.1,99.36 L595.85,99.67 L596.62,99.66 L597.41,99.83 L598.2,99.59 L599,100.01 L599.8,100.02 L600.6,100.36 L601.4,100.48 L602.19,101 L602.96,101.03 L603.72,101.03 L604.46,100.76 L605.17,101.72 L605.85,101.37 L606.5,101.63 L607.11,102.01 L607.69,101.99 L608.22,102.15 L608.7,102.26 L609.13,101.77 L609.5,102.4" fill="none" stroke="#12984a" stroke-width="1.8" stroke-linejoin="round" stroke-linecap="round" />
<path d="M530,128.5 L530.29,128.39 L530.65,127.79 L531.08,127.6 L531.56,126.94 L532.07,126.29 L532.62,126.19 L533.2,125.27 L533.78,124.89 L534.36,124.19 L534.93,123.64 L535.48,123.12 L536,122.46 L536.5,121.54 L537,121.17 L537.5,121.02 L538,120.09 L538.5,119.48 L539,119.02 L539.5,118.69 L540,117.68 L540.5,117.31 L541,116.64 L541.5,116.01 L542,115.79 L542.47,114.93 L542.94,114.52 L543.43,114.02 L543.91,113.46 L544.4,112.88 L544.88,112.36 L545.36,111.41 L545.84,110.42 L546.3,110.68 L546.75,110.34 L547.19,109.33 L547.6,108.96 L548,108.72 L548.69,107.57 L549.32,107.12 L549.91,106.46 L550.46,106.19 L550.99,105.59 L551.5,105.5 L552,104.38 L552.56,103.86 L553.07,103.12 L553.56,102.97 L554.04,102.38 L554.51,101.88 L555,101.65 L555.73,100.74 L556.44,100.19 L557.18,100.69 L558,99.81 L558.66,99.31 L559.41,99.55 L560.19,99.08 L560.93,98.6 L561.55,98.73 L562,98.5" fill="none" stroke="#9a52d8" stroke-width="1.7" stroke-linejoin="round" stroke-linecap="round" />
<path d="M556,100.6 L556.44,100.84 L557.11,100.44 L558,99.78 L558.55,100.28 L559.19,99.05 L559.88,99.08 L560.59,99.1 L561.31,98.29 L562,98.78 L562.77,98.49 L563.5,98.58 L564.26,98.2 L565.07,98.77 L566,97.38 L566.65,97.73 L567.36,97.65 L568.1,97.84 L568.88,98.08 L569.66,97.42 L570.45,98.24 L571.24,98.32 L572,97.96 L572.69,97.42 L573.29,98.26 L573.85,98.24 L574.44,97.77 L575.09,97.96 L575.87,98.15 L576.82,97.95 L578,98.86 L578.52,99.24 L579.07,99.04 L579.66,98.74 L580.27,99.1 L580.92,99.22 L581.59,100.09 L582.28,99.31 L582.99,99.81 L583.72,99.63 L584.47,100.35 L585.22,99.72 L585.99,100.38 L586.77,100.18 L587.56,100.71 L588.34,100.06 L589.13,100.74 L589.92,101.36 L590.7,101.34 L591.48,100.81 L592.24,102.39 L593,101.7 L593.67,101.55 L594.38,101.65 L595.1,101.56 L595.85,102.68 L596.62,102.74 L597.41,102.96 L598.2,102.14 L599,101.96 L599.8,102.01 L600.6,102.44 L601.4,102.96 L602.19,102.87 L602.96,102.83 L603.72,103.84 L604.46,103.51 L605.17,104.06 L605.85,104.55 L606.5,103.88 L607.11,104.12 L607.69,104.93 L608.22,103.95 L608.7,104.45 L609.13,104.27 L609.5,104.8" fill="none" stroke="#9a52d8" stroke-width="3.0" stroke-linejoin="round" stroke-linecap="round" />
<line x1="45.40" y1="34.00" x2="48.4" y2="34.00" stroke="#333" stroke-width="1"/>
<line x1="325.90" y1="34.00" x2="328.9" y2="34.00" stroke="#333" stroke-width="1"/>
<line x1="606.70" y1="34.00" x2="609.7" y2="34.00" stroke="#333" stroke-width="1"/>
<line x1="46.40" y1="49.71" x2="48.4" y2="49.71" stroke="#333" stroke-width="1"/>
<line x1="326.90" y1="49.71" x2="328.9" y2="49.71" stroke="#333" stroke-width="1"/>
<line x1="607.70" y1="49.71" x2="609.7" y2="49.71" stroke="#333" stroke-width="1"/>
<line x1="45.40" y1="65.43" x2="48.4" y2="65.43" stroke="#333" stroke-width="1"/>
<line x1="325.90" y1="65.43" x2="328.9" y2="65.43" stroke="#333" stroke-width="1"/>
<line x1="606.70" y1="65.43" x2="609.7" y2="65.43" stroke="#333" stroke-width="1"/>
<line x1="46.40" y1="81.14" x2="48.4" y2="81.14" stroke="#333" stroke-width="1"/>
<line x1="326.90" y1="81.14" x2="328.9" y2="81.14" stroke="#333" stroke-width="1"/>
<line x1="607.70" y1="81.14" x2="609.7" y2="81.14" stroke="#333" stroke-width="1"/>
<line x1="45.40" y1="96.85" x2="48.4" y2="96.85" stroke="#333" stroke-width="1"/>
<line x1="325.90" y1="96.85" x2="328.9" y2="96.85" stroke="#333" stroke-width="1"/>
<line x1="606.70" y1="96.85" x2="609.7" y2="96.85" stroke="#333" stroke-width="1"/>
<line x1="46.40" y1="112.56" x2="48.4" y2="112.56" stroke="#333" stroke-width="1"/>
<line x1="326.90" y1="112.56" x2="328.9" y2="112.56" stroke="#333" stroke-width="1"/>
<line x1="607.70" y1="112.56" x2="609.7" y2="112.56" stroke="#333" stroke-width="1"/>
<line x1="45.40" y1="128.28" x2="48.4" y2="128.28" stroke="#333" stroke-width="1"/>
<line x1="325.90" y1="128.28" x2="328.9" y2="128.28" stroke="#333" stroke-width="1"/>
<line x1="606.70" y1="128.28" x2="609.7" y2="128.28" stroke="#333" stroke-width="1"/>
<line x1="46.40" y1="143.99" x2="48.4" y2="143.99" stroke="#333" stroke-width="1"/>
<line x1="326.90" y1="143.99" x2="328.9" y2="143.99" stroke="#333" stroke-width="1"/>
<line x1="607.70" y1="143.99" x2="609.7" y2="143.99" stroke="#333" stroke-width="1"/>
<line x1="48.40" y1="148.8" x2="48.40" y2="151.8" stroke="#333" stroke-width="1"/>
<line x1="48.40" y1="23.8" x2="48.40" y2="25.2" stroke="#333" stroke-width="0.9"/>
<line x1="76.45" y1="148.8" x2="76.45" y2="150.8" stroke="#333" stroke-width="1"/>
<line x1="76.45" y1="23.8" x2="76.45" y2="25.2" stroke="#333" stroke-width="0.9"/>
<line x1="104.50" y1="148.8" x2="104.50" y2="151.8" stroke="#333" stroke-width="1"/>
<line x1="104.50" y1="23.8" x2="104.50" y2="25.2" stroke="#333" stroke-width="0.9"/>
<line x1="132.55" y1="148.8" x2="132.55" y2="150.8" stroke="#333" stroke-width="1"/>
<line x1="132.55" y1="23.8" x2="132.55" y2="25.2" stroke="#333" stroke-width="0.9"/>
<line x1="160.60" y1="148.8" x2="160.60" y2="151.8" stroke="#333" stroke-width="1"/>
<line x1="160.60" y1="23.8" x2="160.60" y2="25.2" stroke="#333" stroke-width="0.9"/>
<line x1="188.65" y1="148.8" x2="188.65" y2="150.8" stroke="#333" stroke-width="1"/>
<line x1="188.65" y1="23.8" x2="188.65" y2="25.2" stroke="#333" stroke-width="0.9"/>
<line x1="216.70" y1="148.8" x2="216.70" y2="151.8" stroke="#333" stroke-width="1"/>
<line x1="216.70" y1="23.8" x2="216.70" y2="25.2" stroke="#333" stroke-width="0.9"/>
<line x1="244.75" y1="148.8" x2="244.75" y2="150.8" stroke="#333" stroke-width="1"/>
<line x1="244.75" y1="23.8" x2="244.75" y2="25.2" stroke="#333" stroke-width="0.9"/>
<line x1="272.80" y1="148.8" x2="272.80" y2="151.8" stroke="#333" stroke-width="1"/>
<line x1="272.80" y1="23.8" x2="272.80" y2="25.2" stroke="#333" stroke-width="0.9"/>
<line x1="300.85" y1="148.8" x2="300.85" y2="150.8" stroke="#333" stroke-width="1"/>
<line x1="300.85" y1="23.8" x2="300.85" y2="25.2" stroke="#333" stroke-width="0.9"/>
<line x1="328.90" y1="148.8" x2="328.90" y2="151.8" stroke="#333" stroke-width="1"/>
<line x1="328.90" y1="23.8" x2="328.90" y2="25.2" stroke="#333" stroke-width="0.9"/>
<line x1="328.90" y1="148.8" x2="328.90" y2="151.8" stroke="#333" stroke-width="1"/>
<line x1="328.90" y1="23.8" x2="328.90" y2="25.2" stroke="#333" stroke-width="0.9"/>
<line x1="350.03" y1="148.8" x2="350.03" y2="150.8" stroke="#333" stroke-width="1"/>
<line x1="350.03" y1="23.8" x2="350.03" y2="25.2" stroke="#333" stroke-width="0.9"/>
<line x1="362.39" y1="148.8" x2="362.39" y2="150.8" stroke="#333" stroke-width="1"/>
<line x1="362.39" y1="23.8" x2="362.39" y2="25.2" stroke="#333" stroke-width="0.9"/>
<line x1="371.16" y1="148.8" x2="371.16" y2="150.8" stroke="#333" stroke-width="1"/>
<line x1="371.16" y1="23.8" x2="371.16" y2="25.2" stroke="#333" stroke-width="0.9"/>
<line x1="377.97" y1="148.8" x2="377.97" y2="150.8" stroke="#333" stroke-width="1"/>
<line x1="377.97" y1="23.8" x2="377.97" y2="25.2" stroke="#333" stroke-width="0.9"/>
<line x1="383.53" y1="148.8" x2="383.53" y2="150.8" stroke="#333" stroke-width="1"/>
<line x1="383.53" y1="23.8" x2="383.53" y2="25.2" stroke="#333" stroke-width="0.9"/>
<line x1="388.23" y1="148.8" x2="388.23" y2="150.8" stroke="#333" stroke-width="1"/>
<line x1="388.23" y1="23.8" x2="388.23" y2="25.2" stroke="#333" stroke-width="0.9"/>
<line x1="392.30" y1="148.8" x2="392.30" y2="150.8" stroke="#333" stroke-width="1"/>
<line x1="392.30" y1="23.8" x2="392.30" y2="25.2" stroke="#333" stroke-width="0.9"/>
<line x1="395.89" y1="148.8" x2="395.89" y2="150.8" stroke="#333" stroke-width="1"/>
<line x1="395.89" y1="23.8" x2="395.89" y2="25.2" stroke="#333" stroke-width="0.9"/>
<line x1="399.10" y1="148.8" x2="399.10" y2="151.8" stroke="#333" stroke-width="1"/>
<line x1="399.10" y1="23.8" x2="399.10" y2="25.2" stroke="#333" stroke-width="0.9"/>
<line x1="420.23" y1="148.8" x2="420.23" y2="150.8" stroke="#333" stroke-width="1"/>
<line x1="420.23" y1="23.8" x2="420.23" y2="25.2" stroke="#333" stroke-width="0.9"/>
<line x1="432.59" y1="148.8" x2="432.59" y2="150.8" stroke="#333" stroke-width="1"/>
<line x1="432.59" y1="23.8" x2="432.59" y2="25.2" stroke="#333" stroke-width="0.9"/>
<line x1="441.36" y1="148.8" x2="441.36" y2="150.8" stroke="#333" stroke-width="1"/>
<line x1="441.36" y1="23.8" x2="441.36" y2="25.2" stroke="#333" stroke-width="0.9"/>
<line x1="448.17" y1="148.8" x2="448.17" y2="150.8" stroke="#333" stroke-width="1"/>
<line x1="448.17" y1="23.8" x2="448.17" y2="25.2" stroke="#333" stroke-width="0.9"/>
<line x1="453.73" y1="148.8" x2="453.73" y2="150.8" stroke="#333" stroke-width="1"/>
<line x1="453.73" y1="23.8" x2="453.73" y2="25.2" stroke="#333" stroke-width="0.9"/>
<line x1="458.43" y1="148.8" x2="458.43" y2="150.8" stroke="#333" stroke-width="1"/>
<line x1="458.43" y1="23.8" x2="458.43" y2="25.2" stroke="#333" stroke-width="0.9"/>
<line x1="462.50" y1="148.8" x2="462.50" y2="150.8" stroke="#333" stroke-width="1"/>
<line x1="462.50" y1="23.8" x2="462.50" y2="25.2" stroke="#333" stroke-width="0.9"/>
<line x1="466.09" y1="148.8" x2="466.09" y2="150.8" stroke="#333" stroke-width="1"/>
<line x1="466.09" y1="23.8" x2="466.09" y2="25.2" stroke="#333" stroke-width="0.9"/>
<line x1="469.30" y1="148.8" x2="469.30" y2="151.8" stroke="#333" stroke-width="1"/>
<line x1="469.30" y1="23.8" x2="469.30" y2="25.2" stroke="#333" stroke-width="0.9"/>
<line x1="490.43" y1="148.8" x2="490.43" y2="150.8" stroke="#333" stroke-width="1"/>
<line x1="490.43" y1="23.8" x2="490.43" y2="25.2" stroke="#333" stroke-width="0.9"/>
<line x1="502.79" y1="148.8" x2="502.79" y2="150.8" stroke="#333" stroke-width="1"/>
<line x1="502.79" y1="23.8" x2="502.79" y2="25.2" stroke="#333" stroke-width="0.9"/>
<line x1="511.56" y1="148.8" x2="511.56" y2="150.8" stroke="#333" stroke-width="1"/>
<line x1="511.56" y1="23.8" x2="511.56" y2="25.2" stroke="#333" stroke-width="0.9"/>
<line x1="518.37" y1="148.8" x2="518.37" y2="150.8" stroke="#333" stroke-width="1"/>
<line x1="518.37" y1="23.8" x2="518.37" y2="25.2" stroke="#333" stroke-width="0.9"/>
<line x1="523.93" y1="148.8" x2="523.93" y2="150.8" stroke="#333" stroke-width="1"/>
<line x1="523.93" y1="23.8" x2="523.93" y2="25.2" stroke="#333" stroke-width="0.9"/>
<line x1="528.63" y1="148.8" x2="528.63" y2="150.8" stroke="#333" stroke-width="1"/>
<line x1="528.63" y1="23.8" x2="528.63" y2="25.2" stroke="#333" stroke-width="0.9"/>
<line x1="532.70" y1="148.8" x2="532.70" y2="150.8" stroke="#333" stroke-width="1"/>
<line x1="532.70" y1="23.8" x2="532.70" y2="25.2" stroke="#333" stroke-width="0.9"/>
<line x1="536.29" y1="148.8" x2="536.29" y2="150.8" stroke="#333" stroke-width="1"/>
<line x1="536.29" y1="23.8" x2="536.29" y2="25.2" stroke="#333" stroke-width="0.9"/>
<line x1="539.50" y1="148.8" x2="539.50" y2="151.8" stroke="#333" stroke-width="1"/>
<line x1="539.50" y1="23.8" x2="539.50" y2="25.2" stroke="#333" stroke-width="0.9"/>
<line x1="560.63" y1="148.8" x2="560.63" y2="150.8" stroke="#333" stroke-width="1"/>
<line x1="560.63" y1="23.8" x2="560.63" y2="25.2" stroke="#333" stroke-width="0.9"/>
<line x1="572.99" y1="148.8" x2="572.99" y2="150.8" stroke="#333" stroke-width="1"/>
<line x1="572.99" y1="23.8" x2="572.99" y2="25.2" stroke="#333" stroke-width="0.9"/>
<line x1="581.76" y1="148.8" x2="581.76" y2="150.8" stroke="#333" stroke-width="1"/>
<line x1="581.76" y1="23.8" x2="581.76" y2="25.2" stroke="#333" stroke-width="0.9"/>
<line x1="588.57" y1="148.8" x2="588.57" y2="150.8" stroke="#333" stroke-width="1"/>
<line x1="588.57" y1="23.8" x2="588.57" y2="25.2" stroke="#333" stroke-width="0.9"/>
<line x1="594.13" y1="148.8" x2="594.13" y2="150.8" stroke="#333" stroke-width="1"/>
<line x1="594.13" y1="23.8" x2="594.13" y2="25.2" stroke="#333" stroke-width="0.9"/>
<line x1="598.83" y1="148.8" x2="598.83" y2="150.8" stroke="#333" stroke-width="1"/>
<line x1="598.83" y1="23.8" x2="598.83" y2="25.2" stroke="#333" stroke-width="0.9"/>
<line x1="602.90" y1="148.8" x2="602.90" y2="150.8" stroke="#333" stroke-width="1"/>
<line x1="602.90" y1="23.8" x2="602.90" y2="25.2" stroke="#333" stroke-width="0.9"/>
<line x1="606.49" y1="148.8" x2="606.49" y2="150.8" stroke="#333" stroke-width="1"/>
<line x1="606.49" y1="23.8" x2="606.49" y2="25.2" stroke="#333" stroke-width="0.9"/>
<line x1="609.70" y1="148.8" x2="609.70" y2="151.8" stroke="#333" stroke-width="1"/>
<line x1="47.8" y1="23.8" x2="610.3000000000001" y2="23.8" stroke="#4a4a4a" stroke-width="1.15"/>
<line x1="47.8" y1="148.8" x2="610.3000000000001" y2="148.8" stroke="#3a3a3a" stroke-width="1.25"/>
<line x1="48.4" y1="23.8" x2="48.4" y2="148.8" stroke="#2a2a2a" stroke-width="1.3"/>
<line x1="609.7" y1="23.8" x2="609.7" y2="148.8" stroke="#666" stroke-width="1.1"/>
<line x1="328.9" y1="23.8" x2="328.9" y2="148.8" stroke="#2a2a2a" stroke-width="1.3"/>
<path d="M609.7,110 L609.7,148.5" fill="none" stroke="#da7a7a" stroke-width="1.5" stroke-linejoin="round" stroke-linecap="round" stroke-linecap="butt"/>
<text x="43.2" y="37.10" font-family="Liberation Sans, sans-serif" font-size="9.6" stroke="#000" stroke-width="0.2" fill="#000" text-anchor="end">0.75</text>
<text x="43.2" y="68.53" font-family="Liberation Sans, sans-serif" font-size="9.6" stroke="#000" stroke-width="0.2" fill="#000" text-anchor="end">0.60</text>
<text x="43.2" y="99.95" font-family="Liberation Sans, sans-serif" font-size="9.6" stroke="#000" stroke-width="0.2" fill="#000" text-anchor="end">0.45</text>
<text x="43.2" y="131.38" font-family="Liberation Sans, sans-serif" font-size="9.6" stroke="#000" stroke-width="0.2" fill="#000" text-anchor="end">0.30</text>
<text x="48.40" y="161.40" font-family="Liberation Sans, sans-serif" font-size="9.6" stroke="#000" stroke-width="0.2" fill="#000" text-anchor="middle">0</text>
<text x="104.50" y="161.40" font-family="Liberation Sans, sans-serif" font-size="9.6" stroke="#000" stroke-width="0.2" fill="#000" text-anchor="middle">10</text>
<text x="160.60" y="161.40" font-family="Liberation Sans, sans-serif" font-size="9.6" stroke="#000" stroke-width="0.2" fill="#000" text-anchor="middle">20</text>
<text x="216.70" y="161.40" font-family="Liberation Sans, sans-serif" font-size="9.6" stroke="#000" stroke-width="0.2" fill="#000" text-anchor="middle">30</text>
<text x="272.80" y="161.40" font-family="Liberation Sans, sans-serif" font-size="9.6" stroke="#000" stroke-width="0.2" fill="#000" text-anchor="middle">40</text>
<text x="328.90" y="161.40" font-family="Liberation Sans, sans-serif" font-size="9.6" stroke="#000" stroke-width="0.2" fill="#000" text-anchor="middle">50</text>
<text x="399.40" y="161.40" font-family="Liberation Sans, sans-serif" font-size="9.6" stroke="#000" stroke-width="0.2" fill="#000" text-anchor="middle">0.01</text>
<text x="469.60" y="161.40" font-family="Liberation Sans, sans-serif" font-size="9.6" stroke="#000" stroke-width="0.2" fill="#000" text-anchor="middle">0.1</text>
<text x="539.80" y="161.40" font-family="Liberation Sans, sans-serif" font-size="9.6" stroke="#000" stroke-width="0.2" fill="#000" text-anchor="middle">1</text>
<text x="610.00" y="161.40" font-family="Liberation Sans, sans-serif" font-size="9.6" stroke="#000" stroke-width="0.2" fill="#000" text-anchor="middle">10</text>
<rect x="252.9" y="23.4" width="74.7" height="18.5" fill="#fff" stroke="#d4d4d4" stroke-width="0.9"/>
<line x1="255" y1="32.6" x2="284.6" y2="32.6" stroke="#8a8a8a" stroke-width="1.4"/>
<text x="288.6" y="37.8" font-size="13.2" font-family="Liberation Sans, sans-serif" stroke="#000" stroke-width="0.18" fill="#000">0.1 Hz</text>
<rect x="567.3" y="23.1" width="42.3" height="18.6" fill="#fff" stroke="#d4d4d4" stroke-width="0.9"/>
<text x="568.8" y="37.1" font-size="13.2" font-family="Liberation Sans, sans-serif" stroke="#000" stroke-width="0.18" fill="#000">0.1 Hz</text>
<text x="51" y="42.4" font-size="18.2" font-family="Liberation Sans, sans-serif" stroke="#000" stroke-width="0.18" fill="#000">(a)</text>
<rect x="227.36" y="170.6" width="101.54" height="125.20000000000002" fill="#fbc4c4"/>
<rect x="48.40" y="170.6" width="5.61" height="125.20000000000002" fill="url(#hb0)" stroke="#d6d6d6" stroke-width="0.9"/>
<rect x="104.50" y="170.6" width="5.61" height="125.20000000000002" fill="url(#hb1)" stroke="#d6d6d6" stroke-width="0.9"/>
<rect x="160.60" y="170.6" width="5.61" height="125.20000000000002" fill="url(#hb2)" stroke="#d6d6d6" stroke-width="0.9"/>
<rect x="216.70" y="170.6" width="5.61" height="125.20000000000002" fill="url(#hb3)" stroke="#d6d6d6" stroke-width="0.9"/>
<rect x="272.80" y="170.6" width="5.61" height="125.20000000000002" fill="url(#hb4)" stroke="#d6d6d6" stroke-width="0.9"/>
<rect x="328.9" y="170.6" width="71.50" height="125.20000000000002" fill="url(#hatB)"/>
<line x1="400.5" y1="170.6" x2="400.5" y2="295.8" stroke="#ececec" stroke-width="0.9"/>
<path d="M52.3,250.8 C52.75,251.25 54.05,252.63 55,253.5 C55.95,254.37 56.83,255.33 58,256 C59.17,256.67 60.67,257.08 62,257.5 C63.33,257.92 64.67,258 66,258.5 C67.33,259 68.67,259.75 70,260.5 C71.33,261.25 72.67,262.33 74,263 C75.33,263.67 76.67,264.08 78,264.5 C79.33,264.92 80.67,265.22 82,265.5 C83.33,265.78 83.67,265.98 86,266.2 C88.33,266.42 92,266.63 96,266.8 C100,266.97 92.67,267.12 110,267.2 C127.33,267.28 163.5,267.28 200,267.3 C236.5,267.32 307.5,267.3 329,267.3" fill="none" stroke="#b4b4b4" stroke-width="1.0" stroke-linejoin="round" stroke-linecap="round" stroke-dasharray="1.3,1.3"/>
<path d="M48.6,239 L48.6,259" fill="none" stroke="#262626" stroke-width="1.6" stroke-linejoin="round" stroke-linecap="round" />
<path d="M48.6,258 C48.75,258.17 49.18,259.83 49.5,259 C49.82,258.17 50.08,254.3 50.5,253 C50.92,251.7 51.5,251.2 52,251.2 C52.5,251.2 53,251.7 53.5,253 C54,254.3 54.53,256.5 55,259 C55.47,261.5 55.87,264.92 56.3,268 C56.73,271.08 57.18,275.23 57.6,277.5 C58.02,279.77 58.32,280.98 58.8,281.6 C59.28,282.22 59.85,281.93 60.5,281.2 C61.15,280.47 61.9,279.07 62.7,277.2 C63.5,275.33 64.42,272.37 65.3,270 C66.18,267.63 67.13,264.83 68,263 C68.87,261.17 69.75,259.85 70.5,259 C71.25,258.15 71.75,257.85 72.5,257.9 C73.25,257.95 74.08,258.4 75,259.3 C75.92,260.2 77.08,262.42 78,263.3 C78.92,264.18 79.67,264.55 80.5,264.6 C81.33,264.65 82.08,264 83,263.6 C83.92,263.2 85.5,262.43 86,262.2" fill="none" stroke="#222" stroke-width="1.85" stroke-linejoin="round" stroke-linecap="round" />
<path d="M86,262.2 L86.51,262.01 L87.22,261.73 L88.06,261.66 L89.01,261.29 L90,261.43 L90.64,260.95 L91.3,261 L91.99,261.07 L92.72,260.69 L93.48,260.67 L94.28,260.7 L95.12,260.58 L96,260.75 L96.65,260.4 L97.37,260.2 L98.15,260.58 L98.96,260.24 L99.79,260.22 L100.62,260.25 L101.43,260.48 L102.2,260.38 L102.91,260.22 L103.55,260.2 L104.08,260.03 L104.5,260.1" fill="none" stroke="#222" stroke-width="2.0" stroke-linejoin="round" stroke-linecap="round" />
<path d="M104.5,260.1 C104.92,260.08 106.33,259.77 107,260 C107.67,260.23 108.08,260.67 108.5,261.5 C108.92,262.33 109.17,263.25 109.5,265 C109.83,266.75 110.17,269.83 110.5,272 C110.83,274.17 111.08,276.58 111.5,278 C111.92,279.42 112.42,280.08 113,280.5 C113.58,280.92 114.17,280.82 115,280.5 C115.83,280.18 117,279.18 118,278.6 C119,278.02 120,277.33 121,277 C122,276.67 123.5,276.67 124,276.6" fill="none" stroke="#ee1c1c" stroke-width="2.1" stroke-linejoin="round" stroke-linecap="round" />
<path d="M124,276.6 L124.54,276.88 L125.31,276.82 L126.18,276.59 L127,276.93 L127.73,276.68 L128.44,276.86 L129.18,277 L130,277.53 L130.61,277.77 L131.26,277.72 L131.94,277.89 L132.63,278.41 L133.32,278.36 L134,278.84 L134.77,278.59 L135.5,278.97 L136.26,278.75 L137.07,279.12 L138,278.82 L138.65,278.62 L139.36,278.61 L140.1,278.09 L140.88,278.28 L141.66,278.19 L142.45,278.27 L143.24,277.59 L144,277.78 L144.75,277.65 L145.5,277.44 L146.25,277.16 L147,277.11 L147.75,276.84 L148.5,276.88 L149.25,276.54 L150,276.52 L150.76,276.5 L151.54,276.23 L152.32,276.06 L153.09,276.13 L153.86,276.08 L154.61,276.02 L155.32,275.87 L156,275.95 L156.89,275.53 L157.78,275.56 L158.62,275.04 L159.39,275.13 L160.03,275.01 L160.5,274.8" fill="none" stroke="#ee1c1c" stroke-width="2.1" stroke-linejoin="round" stroke-linecap="round" />
<path d="M160.5,274.8 C160.92,274.83 162.25,274.63 163,275 C163.75,275.37 164.33,275.83 165,277 C165.67,278.17 166.33,280.75 167,282 C167.67,283.25 168.33,284.03 169,284.5 C169.67,284.97 170.67,284.75 171,284.8" fill="none" stroke="#0a55d8" stroke-width="2.1" stroke-linejoin="round" stroke-linecap="round" />
<path d="M171,284.8 L171.52,285.06 L172.25,284.67 L173.11,285.04 L174,284.79 L174.7,284.82 L175.43,284.75 L176.21,285.27 L177.06,285.19 L178,285.53 L178.67,285.5 L179.41,285.66 L180.19,285.61 L181,285.56 L181.81,285.67 L182.59,285.81 L183.33,285.96 L184,285.89 L184.93,286.35 L185.74,286.15 L186.5,286.53 L187.23,287.08 L188,287.25 L188.8,287.71 L189.6,287.77 L190.4,287.64 L191.2,287.77 L192,288 L192.77,287.99 L193.5,288.04 L194.26,287.74 L195.07,287.57 L196,287.39 L196.65,287.37 L197.36,287.09 L198.1,287.02 L198.88,286.97 L199.66,286.65 L200.45,286.33 L201.24,286.41 L202,286.32 L202.73,285.96 L203.44,285.95 L204.14,285.7 L204.84,285.72 L205.57,285.65 L206.32,285.55 L207.13,285.59 L208,285.89 L208.65,285.7 L209.37,285.38 L210.15,285.42 L210.96,285.27 L211.79,285.17 L212.62,284.76 L213.43,284.94 L214.2,284.7 L214.91,284.72 L215.55,284.69 L216.08,284.1 L216.5,284.6" fill="none" stroke="#0a55d8" stroke-width="2.1" stroke-linejoin="round" stroke-linecap="round" />
<path d="M216.5,284.6 C216.92,284.67 218.25,284.63 219,285 C219.75,285.37 220.33,286.2 221,286.8 C221.67,287.4 222.42,287.95 223,288.6 C223.58,289.25 224.25,290.35 224.5,290.7" fill="none" stroke="#12984a" stroke-width="2.0" stroke-linejoin="round" stroke-linecap="round" />
<path d="M224.2,285.6 L224.2,291" fill="none" stroke="#12984a" stroke-width="1.0" stroke-linejoin="round" stroke-linecap="round" />
<path d="M329,284.6 L329.38,284.21 L329.82,284.67 L330.3,284.82 L330.83,284.75 L331.41,284.46 L332.02,284.58 L332.66,284.74 L333.34,284.62 L334.05,284.33 L334.79,284.79 L335.55,284.58 L336.33,284.69 L337.13,284.43 L337.94,284.54 L338.76,284.91 L339.59,284.67 L340.42,284.82 L341.26,285.01 L342.09,284.78 L342.92,284.79 L343.74,284.76 L344.55,284.94 L345.35,284.88 L346.13,284.91 L346.88,285.09 L347.62,284.94 L348.32,285.07 L349,284.77 L349.77,284.87 L350.54,285.03 L351.32,284.83 L352.09,284.75 L352.86,284.98 L353.62,284.93 L354.39,285.09 L355.15,285.3 L355.9,285 L356.65,284.93 L357.39,285.07 L358.12,285.05 L358.85,285.08 L359.56,285.36 L360.27,285.29 L360.96,285.29 L361.64,285.22 L362.31,285.42 L362.97,285.28 L363.61,285.58 L364.23,285.34 L364.84,285.35 L365.43,285.48 L366,285.72 L366.93,285.16 L367.8,285.53 L368.61,285.3 L369.37,285.25 L370.09,285.46 L370.78,285.68 L371.44,285.32 L372.08,285.53 L372.72,285.9 L373.35,285.84 L373.98,285.63 L374.63,285.81 L375.3,285.76 L376,285.71 L376.72,285.72 L377.46,286.09 L378.22,285.85 L378.97,285.99 L379.74,286 L380.5,285.92 L381.25,286.18 L381.99,286.57 L382.72,286.2 L383.43,286.41 L384.12,286.67 L384.78,286.63 L385.41,286.63 L386,286.79 L386.95,286.85 L387.8,286.91 L388.59,286.9 L389.31,287.07 L390,286.98 L390.66,287.38 L391.33,287.44 L392,287.5 L392.78,287.5 L393.56,287.81 L394.32,287.77 L395.05,288.3 L395.75,288.17 L396.4,288.62 L397,288.46 L397.91,288.84 L398.69,288.93 L399.37,289.03 L400,288.84 L401.06,288.37 L402,288.35 L402.69,287.97 L403.37,287.58 L404,287.32 L404.54,286.96 L405.02,286.36 L405.5,286.05 L405.98,286.49 L406.46,287.32 L407,287.94 L407.49,288.63 L408.03,289.3 L408.56,289.95 L409,290.47 L409.62,290.93 L410,291" fill="none" stroke="#3fa862" stroke-width="1.4" stroke-linejoin="round" stroke-linecap="round" />
<path d="M329,274.2 L329.38,274.13 L329.82,274.23 L330.3,274.37 L330.83,274.19 L331.41,274.34 L332.02,274.14 L332.66,274.16 L333.34,274.57 L334.05,274.3 L334.79,274.53 L335.55,274.06 L336.33,274.02 L337.13,274.4 L337.94,274.38 L338.76,274.1 L339.59,274.57 L340.42,274.58 L341.26,274.4 L342.09,274.62 L342.92,274.64 L343.74,274.58 L344.55,274.5 L345.35,274.71 L346.13,274.56 L346.88,274.57 L347.62,274.46 L348.32,274.69 L349,274.88 L349.77,274.63 L350.54,274.65 L351.32,274.54 L352.09,274.72 L352.86,274.9 L353.62,274.76 L354.39,274.89 L355.15,274.98 L355.9,274.69 L356.65,274.75 L357.39,274.94 L358.12,274.82 L358.85,274.71 L359.56,274.88 L360.27,274.96 L360.96,275.07 L361.64,274.79 L362.31,274.98 L362.97,275.01 L363.61,274.52 L364.23,275.07 L364.84,274.96 L365.43,274.74 L366,275.26 L366.93,275.07 L367.8,275.06 L368.61,275.4 L369.37,275.21 L370.09,274.91 L370.78,275.08 L371.44,275.35 L372.08,275.29 L372.72,275.35 L373.35,275.12 L373.98,275.31 L374.63,275.06 L375.3,275.14 L376,275.29 L376.72,275.19 L377.46,275.32 L378.22,275.24 L378.97,275.33 L379.74,275.63 L380.5,275.42 L381.25,275.53 L381.99,275.17 L382.72,275.33 L383.43,275.59 L384.12,275.24 L384.78,275.45 L385.41,275.5 L386,275.77 L386.96,275.4 L387.83,275.65 L388.63,275.81 L389.38,275.91 L390.07,275.73 L390.73,276.26 L391.37,276.28 L392,276.49 L392.94,276.58 L393.79,276.8 L394.57,276.9 L395.3,277.16 L396,277.31 L396.82,277.98 L397.56,278.21 L398.27,279.04 L399,279.37 L399.73,279.54 L400.44,279.94 L401.18,279.94 L402,280.33 L402.61,280.62 L403.26,280.76 L403.94,281.14 L404.63,281.46 L405.32,281.65 L406,281.86 L406.67,282.04 L407.33,282.15 L408,282.75 L408.67,282.81 L409.33,283.27 L410,283.11 L410.8,283.46 L411.6,283.87 L412.4,284.21 L413.2,284.35 L414,284.52 L414.8,284.35 L415.6,284.8 L416.4,285.14 L417.2,284.63 L418,285.04 L418.8,285.28 L419.6,284.66 L420.4,284.71 L421.2,284.81 L422,284.48 L422.8,284.32 L423.6,284.34 L424.4,284.1 L425.2,284.2 L426,284.07 L426.77,284.28 L427.5,284.12 L428.26,284.36 L429.07,284.55 L430,284.35 L430.64,284.94 L431.31,284.87 L432.02,284.96 L432.75,284.97 L433.52,285.31 L434.31,285.31 L435.14,285.68 L436,285.94 L436.66,285.7 L437.37,285.73 L438.12,285.88 L438.89,285.92 L439.67,286.09 L440.45,285.77 L441.23,286.22 L441.98,286.19 L442.7,286.17 L443.38,286.09 L444,286.53 L444.89,286.68 L445.71,286.69 L446.46,286.89 L447.15,287.04 L447.8,287.08 L448.42,287.3 L449,287.14 L449.87,287.62 L450.56,287.32 L451.23,288.02 L452,288.14 L452.7,288.02 L453.43,287.6 L454.21,287.52 L455.06,287.47 L456,287.07 L456.67,287.13 L457.41,286.93 L458.19,287.02 L459,286.57 L459.81,286.41 L460.59,286.43 L461.33,286.37 L462,286.05 L462.93,285.74 L463.74,285.63 L464.5,285.48 L465.23,285.63 L466,285.34 L466.86,285.33 L467.79,284.93 L468.69,284.92 L469.46,284.89 L470,284.7" fill="none" stroke="#3a7ee8" stroke-width="1.5" stroke-linejoin="round" stroke-linecap="round" />
<path d="M329,259.4 L329.38,259.23 L329.82,259.58 L330.3,259.42 L330.83,259.3 L331.41,259.39 L332.02,259.44 L332.66,259.33 L333.34,259.39 L334.05,259.53 L334.79,259.21 L335.55,259.89 L336.33,259.67 L337.13,259.74 L337.94,259.91 L338.76,259.69 L339.59,259.59 L340.42,259.59 L341.26,259.71 L342.09,259.85 L342.92,259.51 L343.74,259.93 L344.55,259.61 L345.35,259.51 L346.13,259.89 L346.88,259.61 L347.62,259.8 L348.32,259.49 L349,259.8 L349.77,259.62 L350.54,259.87 L351.32,259.44 L352.09,259.57 L352.86,259.51 L353.62,259.68 L354.39,259.48 L355.15,259.57 L355.9,259.6 L356.65,259.52 L357.39,259.59 L358.12,259.59 L358.85,259.28 L359.56,259.66 L360.27,259.32 L360.96,259.35 L361.64,259.72 L362.31,259.34 L362.97,259.41 L363.61,259.52 L364.23,259.31 L364.84,259.38 L365.43,259.35 L366,259.37 L366.93,259.22 L367.8,259.56 L368.61,259.42 L369.37,259.53 L370.09,259.46 L370.78,259.39 L371.44,259.68 L372.08,259.42 L372.72,259.71 L373.35,259.48 L373.98,259.51 L374.63,259.66 L375.3,260.02 L376,259.83 L376.72,259.73 L377.46,259.8 L378.22,259.92 L378.97,259.68 L379.74,259.48 L380.5,259.62 L381.25,259.78 L381.99,259.69 L382.72,259.78 L383.43,260.06 L384.12,259.83 L384.78,259.81 L385.41,259.95 L386,260.18 L386.96,260.36 L387.85,260.33 L388.67,260.33 L389.44,260.47 L390.15,260.53 L390.8,260.78 L391.42,261.17 L392,261.28 L392.98,261.54 L393.75,261.64 L394.39,262.11 L395,262.39 L395.57,263.14 L396.06,263.36 L396.52,263.86 L397,264.49 L397.4,265.09 L397.8,265.78 L398.2,266.41 L398.6,267.28 L399,268 L399.33,268.78 L399.67,269.41 L400,270.13 L400.33,270.64 L400.67,271.38 L401,271.66 L401.4,272.55 L401.8,273.28 L402.2,273.6 L402.6,274.69 L403,275.14 L403.59,275.56 L404.19,276.26 L405,276.16 L405.55,276.77 L406.19,277.2 L406.88,277.56 L407.59,278.31 L408.31,278.68 L409,278.97 L409.67,279.09 L410.33,279.58 L411,279.84 L411.67,280.17 L412.33,280.1 L413,280.34 L413.8,280.82 L414.6,280.77 L415.4,280.8 L416.2,280.82 L417,280.39 L417.8,280.92 L418.6,280.33 L419.4,280.18 L420.2,280.25 L421,280.2 L421.78,280.03 L422.55,279.63 L423.33,279.45 L424.14,279.53 L425,279.33 L425.65,278.93 L426.33,279.3 L427.02,278.71 L427.73,278.96 L428.47,278.85 L429.22,278.81 L430,278.61 L430.73,278.63 L431.52,278.45 L432.35,278.17 L433.19,278.11 L434,278.31 L434.76,277.71 L435.43,278 L436,277.71 L436.81,277.21 L437.19,277.03 L438,277.07 L438.57,276.58 L439.24,277.17 L440,277.29 L440.81,277.12 L441.65,277.23 L442.48,277.39 L443.27,277.63 L444,277.44 L444.78,277.65 L445.56,277.92 L446.32,277.8 L447.05,278.24 L447.75,278.33 L448.4,278.6 L449,278.42 L449.87,278.76 L450.56,278.97 L451.23,279 L452,278.83 L452.7,279.09 L453.43,278.77 L454.21,278.62 L455.06,278.41 L456,278.3 L456.67,278.08 L457.41,277.81 L458.19,277.88 L459,277.58 L459.81,277.44 L460.59,277.3 L461.33,276.95 L462,277.01 L462.93,276.88 L463.74,276.49 L464.5,276.55 L465.23,276.46 L466,276.4 L466.71,276.05 L467.48,275.87 L468.25,275.7 L468.96,275.17 L469.56,275.03 L470,275" fill="none" stroke="#ec6262" stroke-width="1.4" stroke-linejoin="round" stroke-linecap="round" />
<path d="M329,262.3 L329.42,262.21 L329.93,262.28 L330.53,262.28 L331.2,262.06 L331.93,261.95 L332.7,261.81 L333.52,261.79 L334.36,261.88 L335.22,261.57 L336.07,261.42 L336.92,261.57 L337.75,261.27 L338.55,261.16 L339.3,260.99 L340,261.13 L340.81,260.87 L341.59,260.57 L342.34,260.43 L343.07,260.62 L343.79,260.41 L344.5,260.43 L345.21,260.33 L345.93,260.35 L346.66,260.22 L347.41,259.81 L348.19,259.79 L349,259.6 L349.69,259.7 L350.41,259.31 L351.15,259.45 L351.92,259.05 L352.7,259.26 L353.5,259.15 L354.29,258.69 L355.08,258.77 L355.86,258.57 L356.63,258.33 L357.37,258.52 L358.09,258.2 L358.77,258.32 L359.41,258.15 L360,258.22 L360.96,257.79 L361.76,257.82 L362.44,257.64 L363.06,257.47 L363.68,257.54 L364.34,257.31 L365.09,257.11 L366,257.02 L366.59,256.73 L367.22,256.89 L367.88,256.84 L368.57,256.32 L369.28,256.37 L370.01,256.16 L370.75,255.97 L371.5,256 L372.26,255.95 L373.03,255.63 L373.78,255.4 L374.54,255.49 L375.28,255.1 L376,254.92 L376.72,254.79 L377.46,254.83 L378.22,254.58 L378.97,254.45 L379.74,254.21 L380.5,254.19 L381.25,254 L381.99,254.08 L382.72,253.72 L383.43,253.47 L384.12,253.67 L384.78,253.37 L385.41,253.21 L386,253.16 L386.97,252.9 L387.86,252.43 L388.7,252.49 L389.47,252.46 L390.18,252.25 L390.84,251.9 L391.44,251.84 L392,251.86 L393.09,251.97 L393.8,251.87 L394.5,252.13 L395.14,252.35 L395.78,252.8 L396.41,253.31 L397,254 L397.43,254.46 L397.84,255.19 L398.22,255.81 L398.61,256.85 L399,257.58 L399.29,258.07 L399.57,258.67 L399.86,259.43 L400.14,260.01 L400.43,260.59 L400.71,261 L401,261.78 L401.29,262.77 L401.57,263.38 L401.86,264.04 L402.14,264.64 L402.43,265.66 L402.71,266.16 L403,267.02 L403.29,267.69 L403.6,268.36 L403.91,269 L404.21,269.87 L404.5,270.33 L404.77,271.01 L405,271.58 L405.33,272.41 L405.56,272.6 L406,273.51 L406.25,274.09 L406.53,274.36 L406.85,275.27 L407.2,276.12 L407.56,276.88 L407.93,277.84 L408.29,278.4 L408.66,279.17 L409,279.71 L409.73,280.29 L410.44,280.75 L411.18,281.11 L412,281.31 L412.74,281.47 L413.53,281.53 L414.35,281.89 L415.18,282.15 L416,282.34 L416.8,282.4 L417.6,282.42 L418.4,282.29 L419.2,282.41 L420,282.31 L420.68,282.03 L421.37,281.84 L422.06,281.69 L422.74,281.24 L423.39,280.98 L424,280.62 L424.48,279.98 L424.93,279.57 L425.36,278.95 L425.77,278.34 L426.17,277.64 L426.58,277.28 L427,276.9 L427.37,275.98 L427.73,275.61 L428.08,274.92 L428.44,274.1 L428.8,273.6 L429.18,272.78 L429.58,271.91 L430,271.61 L430.4,270.87 L430.82,270.27 L431.26,269.77 L431.71,269.18 L432.17,268.42 L432.63,267.85 L433.09,267.25 L433.55,266.5 L434,266.09 L434.45,265.33 L434.91,264.83 L435.37,264.27 L435.83,263.65 L436.29,262.69 L436.74,262.26 L437.18,261.78 L437.6,261.23 L438,260.88 L438.66,260.29 L439.27,259.88 L439.85,259.83 L440.42,259.31 L441,259.01 L441.77,258.52 L442.56,258.22 L443.32,257.96 L444,257.98 L444.7,257.97 L445.3,258.58 L446,259.18 L446.44,259.54 L446.93,260.37 L447.44,260.86 L447.96,261.51 L448.49,262.23 L449,262.68 L449.75,263.11 L450.5,263.72 L451.25,264.04 L452,264.27 L452.73,264.01 L453.44,263.94 L454.18,263.42 L455,263.12 L455.61,262.98 L456.26,262.41 L456.94,262.28 L457.63,261.99 L458.32,261.95 L459,261.57 L459.8,261.61 L460.6,261.53 L461.4,261.37 L462.2,261.25 L463,260.95 L463.82,260.83 L464.65,260.61 L465.47,260.76 L466.26,260.5 L467,260.49 L467.89,260.57 L468.75,260.3 L469.48,259.83 L470,259.8" fill="none" stroke="#4a4a4a" stroke-width="1.3" stroke-linejoin="round" stroke-linecap="round" />
<line x1="45.40" y1="181.00" x2="48.4" y2="181.00" stroke="#333" stroke-width="1"/>
<line x1="325.90" y1="181.00" x2="328.9" y2="181.00" stroke="#333" stroke-width="1"/>
<line x1="606.70" y1="181.00" x2="609.7" y2="181.00" stroke="#333" stroke-width="1"/>
<line x1="46.40" y1="196.67" x2="48.4" y2="196.67" stroke="#333" stroke-width="1"/>
<line x1="326.90" y1="196.67" x2="328.9" y2="196.67" stroke="#333" stroke-width="1"/>
<line x1="607.70" y1="196.67" x2="609.7" y2="196.67" stroke="#333" stroke-width="1"/>
<line x1="45.40" y1="212.34" x2="48.4" y2="212.34" stroke="#333" stroke-width="1"/>
<line x1="325.90" y1="212.34" x2="328.9" y2="212.34" stroke="#333" stroke-width="1"/>
<line x1="606.70" y1="212.34" x2="609.7" y2="212.34" stroke="#333" stroke-width="1"/>
<line x1="46.40" y1="228.00" x2="48.4" y2="228.00" stroke="#333" stroke-width="1"/>
<line x1="326.90" y1="228.00" x2="328.9" y2="228.00" stroke="#333" stroke-width="1"/>
<line x1="607.70" y1="228.00" x2="609.7" y2="228.00" stroke="#333" stroke-width="1"/>
<line x1="45.40" y1="243.67" x2="48.4" y2="243.67" stroke="#333" stroke-width="1"/>
<line x1="325.90" y1="243.67" x2="328.9" y2="243.67" stroke="#333" stroke-width="1"/>
<line x1="606.70" y1="243.67" x2="609.7" y2="243.67" stroke="#333" stroke-width="1"/>
<line x1="46.40" y1="259.34" x2="48.4" y2="259.34" stroke="#333" stroke-width="1"/>
<line x1="326.90" y1="259.34" x2="328.9" y2="259.34" stroke="#333" stroke-width="1"/>
<line x1="607.70" y1="259.34" x2="609.7" y2="259.34" stroke="#333" stroke-width="1"/>
<line x1="45.40" y1="275.00" x2="48.4" y2="275.00" stroke="#333" stroke-width="1"/>
<line x1="325.90" y1="275.00" x2="328.9" y2="275.00" stroke="#333" stroke-width="1"/>
<line x1="606.70" y1="275.00" x2="609.7" y2="275.00" stroke="#333" stroke-width="1"/>
<line x1="46.40" y1="290.67" x2="48.4" y2="290.67" stroke="#333" stroke-width="1"/>
<line x1="326.90" y1="290.67" x2="328.9" y2="290.67" stroke="#333" stroke-width="1"/>
<line x1="607.70" y1="290.67" x2="609.7" y2="290.67" stroke="#333" stroke-width="1"/>
<line x1="48.40" y1="295.8" x2="48.40" y2="298.8" stroke="#333" stroke-width="1"/>
<line x1="48.40" y1="170.6" x2="48.40" y2="172.0" stroke="#333" stroke-width="0.9"/>
<line x1="104.50" y1="295.8" x2="104.50" y2="297.8" stroke="#333" stroke-width="1"/>
<line x1="104.50" y1="170.6" x2="104.50" y2="172.0" stroke="#333" stroke-width="0.9"/>
<line x1="160.60" y1="295.8" x2="160.60" y2="298.8" stroke="#333" stroke-width="1"/>
<line x1="160.60" y1="170.6" x2="160.60" y2="172.0" stroke="#333" stroke-width="0.9"/>
<line x1="216.70" y1="295.8" x2="216.70" y2="297.8" stroke="#333" stroke-width="1"/>
<line x1="216.70" y1="170.6" x2="216.70" y2="172.0" stroke="#333" stroke-width="0.9"/>
<line x1="272.80" y1="295.8" x2="272.80" y2="298.8" stroke="#333" stroke-width="1"/>
<line x1="272.80" y1="170.6" x2="272.80" y2="172.0" stroke="#333" stroke-width="0.9"/>
<line x1="328.90" y1="295.8" x2="328.90" y2="297.8" stroke="#333" stroke-width="1"/>
<line x1="328.90" y1="170.6" x2="328.90" y2="172.0" stroke="#333" stroke-width="0.9"/>
<line x1="328.90" y1="295.8" x2="328.90" y2="298.8" stroke="#333" stroke-width="1"/>
<line x1="328.90" y1="170.6" x2="328.90" y2="172.0" stroke="#333" stroke-width="0.9"/>
<line x1="350.03" y1="295.8" x2="350.03" y2="297.8" stroke="#333" stroke-width="1"/>
<line x1="350.03" y1="170.6" x2="350.03" y2="172.0" stroke="#333" stroke-width="0.9"/>
<line x1="362.39" y1="295.8" x2="362.39" y2="297.8" stroke="#333" stroke-width="1"/>
<line x1="362.39" y1="170.6" x2="362.39" y2="172.0" stroke="#333" stroke-width="0.9"/>
<line x1="371.16" y1="295.8" x2="371.16" y2="297.8" stroke="#333" stroke-width="1"/>
<line x1="371.16" y1="170.6" x2="371.16" y2="172.0" stroke="#333" stroke-width="0.9"/>
<line x1="377.97" y1="295.8" x2="377.97" y2="297.8" stroke="#333" stroke-width="1"/>
<line x1="377.97" y1="170.6" x2="377.97" y2="172.0" stroke="#333" stroke-width="0.9"/>
<line x1="383.53" y1="295.8" x2="383.53" y2="297.8" stroke="#333" stroke-width="1"/>
<line x1="383.53" y1="170.6" x2="383.53" y2="172.0" stroke="#333" stroke-width="0.9"/>
<line x1="388.23" y1="295.8" x2="388.23" y2="297.8" stroke="#333" stroke-width="1"/>
<line x1="388.23" y1="170.6" x2="388.23" y2="172.0" stroke="#333" stroke-width="0.9"/>
<line x1="392.30" y1="295.8" x2="392.30" y2="297.8" stroke="#333" stroke-width="1"/>
<line x1="392.30" y1="170.6" x2="392.30" y2="172.0" stroke="#333" stroke-width="0.9"/>
<line x1="395.89" y1="295.8" x2="395.89" y2="297.8" stroke="#333" stroke-width="1"/>
<line x1="395.89" y1="170.6" x2="395.89" y2="172.0" stroke="#333" stroke-width="0.9"/>
<line x1="399.10" y1="295.8" x2="399.10" y2="298.8" stroke="#333" stroke-width="1"/>
<line x1="399.10" y1="170.6" x2="399.10" y2="172.0" stroke="#333" stroke-width="0.9"/>
<line x1="420.23" y1="295.8" x2="420.23" y2="297.8" stroke="#333" stroke-width="1"/>
<line x1="420.23" y1="170.6" x2="420.23" y2="172.0" stroke="#333" stroke-width="0.9"/>
<line x1="432.59" y1="295.8" x2="432.59" y2="297.8" stroke="#333" stroke-width="1"/>
<line x1="432.59" y1="170.6" x2="432.59" y2="172.0" stroke="#333" stroke-width="0.9"/>
<line x1="441.36" y1="295.8" x2="441.36" y2="297.8" stroke="#333" stroke-width="1"/>
<line x1="441.36" y1="170.6" x2="441.36" y2="172.0" stroke="#333" stroke-width="0.9"/>
<line x1="448.17" y1="295.8" x2="448.17" y2="297.8" stroke="#333" stroke-width="1"/>
<line x1="448.17" y1="170.6" x2="448.17" y2="172.0" stroke="#333" stroke-width="0.9"/>
<line x1="453.73" y1="295.8" x2="453.73" y2="297.8" stroke="#333" stroke-width="1"/>
<line x1="453.73" y1="170.6" x2="453.73" y2="172.0" stroke="#333" stroke-width="0.9"/>
<line x1="458.43" y1="295.8" x2="458.43" y2="297.8" stroke="#333" stroke-width="1"/>
<line x1="458.43" y1="170.6" x2="458.43" y2="172.0" stroke="#333" stroke-width="0.9"/>
<line x1="462.50" y1="295.8" x2="462.50" y2="297.8" stroke="#333" stroke-width="1"/>
<line x1="462.50" y1="170.6" x2="462.50" y2="172.0" stroke="#333" stroke-width="0.9"/>
<line x1="466.09" y1="295.8" x2="466.09" y2="297.8" stroke="#333" stroke-width="1"/>
<line x1="466.09" y1="170.6" x2="466.09" y2="172.0" stroke="#333" stroke-width="0.9"/>
<line x1="469.30" y1="295.8" x2="469.30" y2="298.8" stroke="#333" stroke-width="1"/>
<line x1="469.30" y1="170.6" x2="469.30" y2="172.0" stroke="#333" stroke-width="0.9"/>
<line x1="490.43" y1="295.8" x2="490.43" y2="297.8" stroke="#333" stroke-width="1"/>
<line x1="490.43" y1="170.6" x2="490.43" y2="172.0" stroke="#333" stroke-width="0.9"/>
<line x1="502.79" y1="295.8" x2="502.79" y2="297.8" stroke="#333" stroke-width="1"/>
<line x1="502.79" y1="170.6" x2="502.79" y2="172.0" stroke="#333" stroke-width="0.9"/>
<line x1="511.56" y1="295.8" x2="511.56" y2="297.8" stroke="#333" stroke-width="1"/>
<line x1="511.56" y1="170.6" x2="511.56" y2="172.0" stroke="#333" stroke-width="0.9"/>
<line x1="518.37" y1="295.8" x2="518.37" y2="297.8" stroke="#333" stroke-width="1"/>
<line x1="518.37" y1="170.6" x2="518.37" y2="172.0" stroke="#333" stroke-width="0.9"/>
<line x1="523.93" y1="295.8" x2="523.93" y2="297.8" stroke="#333" stroke-width="1"/>
<line x1="523.93" y1="170.6" x2="523.93" y2="172.0" stroke="#333" stroke-width="0.9"/>
<line x1="528.63" y1="295.8" x2="528.63" y2="297.8" stroke="#333" stroke-width="1"/>
<line x1="528.63" y1="170.6" x2="528.63" y2="172.0" stroke="#333" stroke-width="0.9"/>
<line x1="532.70" y1="295.8" x2="532.70" y2="297.8" stroke="#333" stroke-width="1"/>
<line x1="532.70" y1="170.6" x2="532.70" y2="172.0" stroke="#333" stroke-width="0.9"/>
<line x1="536.29" y1="295.8" x2="536.29" y2="297.8" stroke="#333" stroke-width="1"/>
<line x1="536.29" y1="170.6" x2="536.29" y2="172.0" stroke="#333" stroke-width="0.9"/>
<line x1="539.50" y1="295.8" x2="539.50" y2="298.8" stroke="#333" stroke-width="1"/>
<line x1="539.50" y1="170.6" x2="539.50" y2="172.0" stroke="#333" stroke-width="0.9"/>
<line x1="560.63" y1="295.8" x2="560.63" y2="297.8" stroke="#333" stroke-width="1"/>
<line x1="560.63" y1="170.6" x2="560.63" y2="172.0" stroke="#333" stroke-width="0.9"/>
<line x1="572.99" y1="295.8" x2="572.99" y2="297.8" stroke="#333" stroke-width="1"/>
<line x1="572.99" y1="170.6" x2="572.99" y2="172.0" stroke="#333" stroke-width="0.9"/>
<line x1="581.76" y1="295.8" x2="581.76" y2="297.8" stroke="#333" stroke-width="1"/>
<line x1="581.76" y1="170.6" x2="581.76" y2="172.0" stroke="#333" stroke-width="0.9"/>
<line x1="588.57" y1="295.8" x2="588.57" y2="297.8" stroke="#333" stroke-width="1"/>
<line x1="588.57" y1="170.6" x2="588.57" y2="172.0" stroke="#333" stroke-width="0.9"/>
<line x1="594.13" y1="295.8" x2="594.13" y2="297.8" stroke="#333" stroke-width="1"/>
<line x1="594.13" y1="170.6" x2="594.13" y2="172.0" stroke="#333" stroke-width="0.9"/>
<line x1="598.83" y1="295.8" x2="598.83" y2="297.8" stroke="#333" stroke-width="1"/>
<line x1="598.83" y1="170.6" x2="598.83" y2="172.0" stroke="#333" stroke-width="0.9"/>
<line x1="602.90" y1="295.8" x2="602.90" y2="297.8" stroke="#333" stroke-width="1"/>
<line x1="602.90" y1="170.6" x2="602.90" y2="172.0" stroke="#333" stroke-width="0.9"/>
<line x1="606.49" y1="295.8" x2="606.49" y2="297.8" stroke="#333" stroke-width="1"/>
<line x1="606.49" y1="170.6" x2="606.49" y2="172.0" stroke="#333" stroke-width="0.9"/>
<line x1="609.70" y1="295.8" x2="609.70" y2="298.8" stroke="#333" stroke-width="1"/>
<line x1="47.8" y1="170.6" x2="610.3000000000001" y2="170.6" stroke="#4a4a4a" stroke-width="1.15"/>
<line x1="47.8" y1="295.8" x2="610.3000000000001" y2="295.8" stroke="#3a3a3a" stroke-width="1.25"/>
<line x1="48.4" y1="170.6" x2="48.4" y2="295.8" stroke="#2a2a2a" stroke-width="1.3"/>
<line x1="609.7" y1="170.6" x2="609.7" y2="295.8" stroke="#666" stroke-width="1.1"/>
<line x1="328.9" y1="170.6" x2="328.9" y2="295.8" stroke="#2a2a2a" stroke-width="1.3"/>
<text x="43.2" y="184.10" font-family="Liberation Sans, sans-serif" font-size="9.6" stroke="#000" stroke-width="0.2" fill="#000" text-anchor="end">0.75</text>
<text x="43.2" y="215.44" font-family="Liberation Sans, sans-serif" font-size="9.6" stroke="#000" stroke-width="0.2" fill="#000" text-anchor="end">0.60</text>
<text x="43.2" y="246.77" font-family="Liberation Sans, sans-serif" font-size="9.6" stroke="#000" stroke-width="0.2" fill="#000" text-anchor="end">0.45</text>
<text x="43.2" y="278.11" font-family="Liberation Sans, sans-serif" font-size="9.6" stroke="#000" stroke-width="0.2" fill="#000" text-anchor="end">0.30</text>
<text x="48.40" y="308.40" font-family="Liberation Sans, sans-serif" font-size="9.6" stroke="#000" stroke-width="0.2" fill="#000" text-anchor="middle">0.0</text>
<text x="160.60" y="308.40" font-family="Liberation Sans, sans-serif" font-size="9.6" stroke="#000" stroke-width="0.2" fill="#000" text-anchor="middle">0.2</text>
<text x="272.80" y="308.40" font-family="Liberation Sans, sans-serif" font-size="9.6" stroke="#000" stroke-width="0.2" fill="#000" text-anchor="middle">0.4</text>
<text x="399.40" y="308.40" font-family="Liberation Sans, sans-serif" font-size="9.6" stroke="#000" stroke-width="0.2" fill="#000" text-anchor="middle">0.01</text>
<text x="469.60" y="308.40" font-family="Liberation Sans, sans-serif" font-size="9.6" stroke="#000" stroke-width="0.2" fill="#000" text-anchor="middle">0.1</text>
<text x="539.80" y="308.40" font-family="Liberation Sans, sans-serif" font-size="9.6" stroke="#000" stroke-width="0.2" fill="#000" text-anchor="middle">1</text>
<text x="610.00" y="308.40" font-family="Liberation Sans, sans-serif" font-size="9.6" stroke="#000" stroke-width="0.2" fill="#000" text-anchor="middle">10</text>
<rect x="257.6" y="171.3" width="72.2" height="17.5" fill="#fff" stroke="#d4d4d4" stroke-width="0.9"/>
<line x1="259" y1="180" x2="289.6" y2="180" stroke="#222" stroke-width="1.4"/>
<text x="293.9" y="184.2" font-size="13.2" font-family="Liberation Sans, sans-serif" stroke="#000" stroke-width="0.18" fill="#000">10 Hz</text>
<line x1="329.5" y1="171" x2="329.5" y2="189.5" stroke="#8a8a8a" stroke-width="1.1"/>
<rect x="573" y="170.8" width="38.6" height="18.3" fill="#fff" stroke="#c8c8c8" stroke-width="0.9"/>
<text x="575.7" y="184.6" font-size="13.2" font-family="Liberation Sans, sans-serif" stroke="#000" stroke-width="0.18" fill="#000">10 Hz</text>
<text x="56.8" y="189.6" font-size="18.2" font-family="Liberation Sans, sans-serif" stroke="#000" stroke-width="0.18" fill="#000">(b)</text>
<text transform="translate(11.3,148.5) rotate(-90)" font-size="13.3" font-family="Liberation Sans, sans-serif" stroke="#000" stroke-width="0.18" text-anchor="middle" fill="#000">Discharge power (W)</text>
<text x="61.3" y="326.4" font-size="13.4" font-family="Liberation Sans, sans-serif" stroke="#000" stroke-width="0.18" fill="#000">Time after multiple pulsed gas injections (s)</text>
<text x="354.9" y="326.4" font-size="13.4" font-family="Liberation Sans, sans-serif" stroke="#000" stroke-width="0.18" fill="#000">Time after each pulsed gas injection (s)</text>
</svg>
</body></html>
